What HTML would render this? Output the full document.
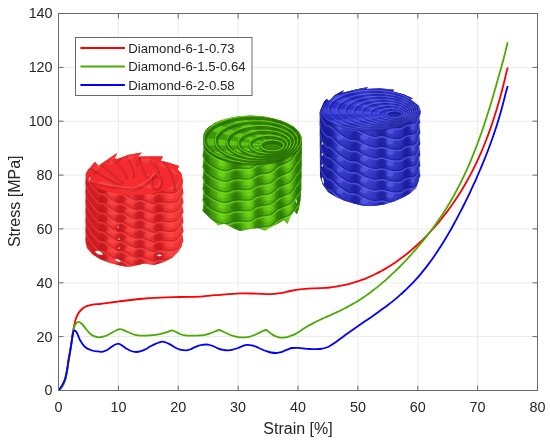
<!DOCTYPE html>
<html><head><meta charset="utf-8"><title>Stress-Strain</title>
<style>
html,body{margin:0;padding:0;background:#fff;}
svg{display:block;}
text{font-family:"Liberation Sans",Arial,Helvetica,sans-serif;fill:#262626;}
</style></head><body>
<svg width="550" height="443" viewBox="0 0 550 443">
<rect width="550" height="443" fill="#fff"/>
<g stroke="#ebebeb" stroke-width="1"><line x1="118.4" y1="13.5" x2="118.4" y2="390.5"/><line x1="178.2" y1="13.5" x2="178.2" y2="390.5"/><line x1="238.1" y1="13.5" x2="238.1" y2="390.5"/><line x1="298.0" y1="13.5" x2="298.0" y2="390.5"/><line x1="357.9" y1="13.5" x2="357.9" y2="390.5"/><line x1="417.8" y1="13.5" x2="417.8" y2="390.5"/><line x1="477.6" y1="13.5" x2="477.6" y2="390.5"/><line x1="58.5" y1="336.6" x2="537.5" y2="336.6"/><line x1="58.5" y1="282.8" x2="537.5" y2="282.8"/><line x1="58.5" y1="228.9" x2="537.5" y2="228.9"/><line x1="58.5" y1="175.1" x2="537.5" y2="175.1"/><line x1="58.5" y1="121.2" x2="537.5" y2="121.2"/><line x1="58.5" y1="67.4" x2="537.5" y2="67.4"/></g>
<clipPath id="cR"><path d="M85.6 178.0L85.8 174.0L88.0 170.0L95.0 162.0L98.5 166.0L102.0 163.5L117.0 153.0L114.5 158.5L118.0 159.0L128.0 155.0L142.0 152.4L137.5 156.8L146.0 156.6L163.0 156.6L160.5 160.8L168.0 162.4L179.0 166.0L177.5 169.6L181.0 173.0L183.0 180.0L182.4 186.0L183.6 193.5L182.3 195.5L183.6 203.0L182.3 205.0L183.6 212.6L182.3 214.6L183.6 222.2L182.3 224.2L183.6 231.8L182.3 233.8L183.4 241.4L182.3 243.0L182.0 246.0L178.0 252.0L172.0 258.0L164.0 262.0L154.0 265.0L144.0 263.6L138.0 265.0L128.0 267.0L120.0 265.6L110.0 263.0L100.0 259.0L92.0 254.0L87.0 248.0L85.6 242.0Z"/></clipPath>
<linearGradient id="gR" x1="0" x2="1" y1="0" y2="0"><stop offset="0" stop-color="#b8141c" stop-opacity="0.1"/><stop offset="0.15" stop-color="#b8141c" stop-opacity="0"/><stop offset="0.5" stop-color="#ff5d58" stop-opacity="0.05"/><stop offset="0.9" stop-color="#b8141c" stop-opacity="0"/><stop offset="1" stop-color="#ff5d58" stop-opacity="0.15"/></linearGradient>
<g clip-path="url(#cR)">
<rect x="83.6" y="146.4" width="100.8" height="149.2" fill="#f52a2e"/>
<linearGradient id="kR" gradientUnits="userSpaceOnUse" x1="85.6" x2="182.4" y1="0" y2="0"><stop offset="0.180" stop-color="#b8141c" stop-opacity="0.50"/><stop offset="0.273" stop-color="#ff5d58" stop-opacity="0.30"/><stop offset="0.366" stop-color="#b8141c" stop-opacity="0.50"/><stop offset="0.459" stop-color="#ff5d58" stop-opacity="0.30"/><stop offset="0.562" stop-color="#b8141c" stop-opacity="0.50"/><stop offset="0.655" stop-color="#ff5d58" stop-opacity="0.30"/><stop offset="0.753" stop-color="#b8141c" stop-opacity="0.50"/><stop offset="0.872" stop-color="#ff5d58" stop-opacity="0.30"/></linearGradient>
<rect x="85.6" y="146.4" width="96.8" height="149.2" fill="url(#kR)"/>
<path d="M85.6 121.2L85.7 122.7L86.0 124.1L86.5 125.7L87.2 127.4L88.2 129.1L89.3 131.0L90.6 132.9L92.1 135.0L93.8 137.1L95.6 139.2L97.6 141.2L99.8 142.9L102.1 142.5L104.5 143.9L107.1 145.8L109.8 148.0L112.6 150.2L115.5 152.2L118.4 153.2L121.5 152.6L124.6 154.1L127.7 156.0L130.8 157.9L134.0 159.3L137.2 159.9L140.3 158.7L143.4 159.8L146.5 161.1L149.6 162.4L152.5 163.2L155.4 163.5L158.2 161.5L160.9 161.6L163.5 161.9L165.9 162.2L168.2 162.4L170.4 162.4L172.4 162.3L174.2 161.9L175.9 161.3L177.4 160.5L178.7 158.9L179.8 157.0L180.8 155.4L181.5 154.1L182.0 152.9L182.3 151.6L182.4 150.3M85.6 130.8L85.7 132.3L86.0 133.7L86.5 135.3L87.2 137.0L88.2 138.7L89.3 140.6L90.6 142.5L92.1 144.6L93.8 146.7L95.6 148.8L97.6 150.8L99.8 152.5L102.1 152.1L104.5 153.5L107.1 155.4L109.8 157.6L112.6 159.8L115.5 161.8L118.4 162.8L121.5 162.2L124.6 163.7L127.7 165.6L130.8 167.5L134.0 168.9L137.2 169.5L140.3 168.3L143.4 169.4L146.5 170.7L149.6 172.0L152.5 172.8L155.4 173.1L158.2 171.1L160.9 171.2L163.5 171.5L165.9 171.8L168.2 172.0L170.4 172.0L172.4 171.9L174.2 171.5L175.9 170.9L177.4 170.1L178.7 168.5L179.8 166.6L180.8 165.0L181.5 163.7L182.0 162.5L182.3 161.2L182.4 159.9M85.6 140.4L85.7 141.9L86.0 143.3L86.5 144.9L87.2 146.6L88.2 148.3L89.3 150.2L90.6 152.1L92.1 154.2L93.8 156.3L95.6 158.4L97.6 160.4L99.8 162.1L102.1 161.7L104.5 163.1L107.1 165.0L109.8 167.2L112.6 169.4L115.5 171.4L118.4 172.4L121.5 171.8L124.6 173.3L127.7 175.2L130.8 177.1L134.0 178.5L137.2 179.1L140.3 177.9L143.4 179.0L146.5 180.3L149.6 181.6L152.5 182.4L155.4 182.7L158.2 180.7L160.9 180.8L163.5 181.1L165.9 181.4L168.2 181.6L170.4 181.6L172.4 181.5L174.2 181.1L175.9 180.5L177.4 179.7L178.7 178.1L179.8 176.2L180.8 174.6L181.5 173.3L182.0 172.1L182.3 170.8L182.4 169.5M85.6 150.0L85.7 151.5L86.0 152.9L86.5 154.5L87.2 156.2L88.2 157.9L89.3 159.8L90.6 161.7L92.1 163.8L93.8 165.9L95.6 168.0L97.6 170.0L99.8 171.7L102.1 171.3L104.5 172.7L107.1 174.6L109.8 176.8L112.6 179.0L115.5 181.0L118.4 182.0L121.5 181.4L124.6 182.9L127.7 184.8L130.8 186.7L134.0 188.1L137.2 188.7L140.3 187.5L143.4 188.6L146.5 189.9L149.6 191.2L152.5 192.0L155.4 192.3L158.2 190.3L160.9 190.4L163.5 190.7L165.9 191.0L168.2 191.2L170.4 191.2L172.4 191.1L174.2 190.7L175.9 190.1L177.4 189.3L178.7 187.7L179.8 185.8L180.8 184.2L181.5 182.9L182.0 181.7L182.3 180.4L182.4 179.1M85.6 159.6L85.7 161.0L86.0 162.5L86.5 164.1L87.2 165.8L88.2 167.5L89.3 169.3L90.6 171.3L92.1 173.4L93.8 175.5L95.6 177.6L97.6 179.5L99.8 181.2L102.1 180.9L104.5 182.2L107.1 184.2L109.8 186.4L112.6 188.6L115.5 190.5L118.4 191.5L121.5 190.9L124.6 192.5L127.7 194.4L130.8 196.2L134.0 197.7L137.2 198.2L140.3 197.1L143.4 198.1L146.5 199.4L149.6 200.7L152.5 201.6L155.4 201.8L158.2 199.8L160.9 200.0L163.5 200.2L165.9 200.5L168.2 200.7L170.4 200.8L172.4 200.7L174.2 200.3L175.9 199.7L177.4 198.9L178.7 197.3L179.8 195.4L180.8 193.8L181.5 192.5L182.0 191.3L182.3 190.0L182.4 188.7M85.6 169.2L85.7 170.6L86.0 172.1L86.5 173.7L87.2 175.3L88.2 177.1L89.3 178.9L90.6 180.9L92.1 182.9L93.8 185.0L95.6 187.1L97.6 189.1L99.8 190.8L102.1 190.5L104.5 191.8L107.1 193.8L109.8 195.9L112.6 198.1L115.5 200.1L118.4 201.1L121.5 200.5L124.6 202.0L127.7 203.9L130.8 205.8L134.0 207.3L137.2 207.8L140.3 206.7L143.4 207.7L146.5 209.0L149.6 210.3L152.5 211.2L155.4 211.4L158.2 209.4L160.9 209.5L163.5 209.8L165.9 210.1L168.2 210.3L170.4 210.4L172.4 210.2L174.2 209.9L175.9 209.3L177.4 208.5L178.7 206.9L179.8 205.0L180.8 203.4L181.5 202.1L182.0 200.9L182.3 199.6L182.4 198.3M85.6 178.8L85.7 180.2L86.0 181.7L86.5 183.3L87.2 184.9L88.2 186.7L89.3 188.5L90.6 190.5L92.1 192.5L93.8 194.6L95.6 196.7L97.6 198.7L99.8 200.4L102.1 200.0L104.5 201.4L107.1 203.3L109.8 205.5L112.6 207.7L115.5 209.6L118.4 210.6L121.5 210.0L124.6 211.6L127.7 213.5L130.8 215.3L134.0 216.8L137.2 217.3L140.3 216.2L143.4 217.3L146.5 218.6L149.6 219.8L152.5 220.7L155.4 220.9L158.2 219.0L160.9 219.1L163.5 219.4L165.9 219.7L168.2 219.9L170.4 219.9L172.4 219.8L174.2 219.4L175.9 218.9L177.4 218.0L178.7 216.4L179.8 214.6L180.8 213.0L181.5 211.7L182.0 210.5L182.3 209.2L182.4 207.9M85.6 188.4L85.7 189.8L86.0 191.3L86.5 192.9L87.2 194.5L88.2 196.2L89.3 198.1L90.6 200.0L92.1 202.1L93.8 204.2L95.6 206.3L97.6 208.3L99.8 209.9L102.1 209.6L104.5 210.9L107.1 212.9L109.8 215.1L112.6 217.3L115.5 219.2L118.4 220.2L121.5 219.6L124.6 221.2L127.7 223.0L130.8 224.9L134.0 226.4L137.2 226.9L140.3 225.8L143.4 226.8L146.5 228.1L149.6 229.4L152.5 230.3L155.4 230.5L158.2 228.5L160.9 228.7L163.5 228.9L165.9 229.2L168.2 229.4L170.4 229.5L172.4 229.4L174.2 229.0L175.9 228.5L177.4 227.6L178.7 226.0L179.8 224.2L180.8 222.6L181.5 221.3L182.0 220.1L182.3 218.8L182.4 217.5M85.6 198.0L85.7 199.4L86.0 200.9L86.5 202.5L87.2 204.1L88.2 205.8L89.3 207.7L90.6 209.6L92.1 211.7L93.8 213.8L95.6 215.9L97.6 217.8L99.8 219.5L102.1 219.2L104.5 220.5L107.1 222.4L109.8 224.6L112.6 226.8L115.5 228.8L118.4 229.8L121.5 229.1L124.6 230.7L127.7 232.6L130.8 234.5L134.0 235.9L137.2 236.5L140.3 235.3L143.4 236.4L146.5 237.7L149.6 238.9L152.5 239.8L155.4 240.1L158.2 238.1L160.9 238.2L163.5 238.5L165.9 238.8L168.2 239.0L170.4 239.1L172.4 239.0L174.2 238.6L175.9 238.0L177.4 237.2L178.7 235.6L179.8 233.8L180.8 232.2L181.5 230.9L182.0 229.7L182.3 228.4L182.4 227.1M85.6 207.6L85.7 209.0L86.0 210.5L86.5 212.1L87.2 213.7L88.2 215.4L89.3 217.3L90.6 219.2L92.1 221.2L93.8 223.3L95.6 225.4L97.6 227.4L99.8 229.1L102.1 228.7L104.5 230.1L107.1 232.0L109.8 234.2L112.6 236.4L115.5 238.3L118.4 239.3L121.5 238.7L124.6 240.3L127.7 242.2L130.8 244.0L134.0 245.5L137.2 246.0L140.3 244.9L143.4 245.9L146.5 247.2L149.6 248.5L152.5 249.4L155.4 249.6L158.2 247.7L160.9 247.8L163.5 248.1L165.9 248.4L168.2 248.6L170.4 248.7L172.4 248.5L174.2 248.2L175.9 247.6L177.4 246.8L178.7 245.2L179.8 243.3L180.8 241.8L181.5 240.5L182.0 239.3L182.3 238.0L182.4 236.7M85.6 217.2L85.7 218.6L86.0 220.1L86.5 221.7L87.2 223.3L88.2 225.0L89.3 226.8L90.6 228.8L92.1 230.8L93.8 232.9L95.6 235.0L97.6 237.0L99.8 238.7L102.1 238.3L104.5 239.6L107.1 241.6L109.8 243.8L112.6 245.9L115.5 247.9L118.4 248.9L121.5 248.3L124.6 249.8L127.7 251.7L130.8 253.6L134.0 255.0L137.2 255.6L140.3 254.5L143.4 255.5L146.5 256.8L149.6 258.1L152.5 259.0L155.4 259.2L158.2 257.2L160.9 257.4L163.5 257.6L165.9 257.9L168.2 258.2L170.4 258.2L172.4 258.1L174.2 257.8L175.9 257.2L177.4 256.4L178.7 254.8L179.8 252.9L180.8 251.3L181.5 250.1L182.0 248.9L182.3 247.6L182.4 246.3M85.6 226.8L85.7 228.2L86.0 229.7L86.5 231.3L87.2 232.9L88.2 234.6L89.3 236.4L90.6 238.4L92.1 240.4L93.8 242.5L95.6 244.6L97.6 246.6L99.8 248.3L102.1 247.9L104.5 249.2L107.1 251.2L109.8 253.4L112.6 255.5L115.5 257.5L118.4 258.5L121.5 257.9L124.6 259.4L127.7 261.3L130.8 263.2L134.0 264.6L137.2 265.2L140.3 264.1L143.4 265.1L146.5 266.4L149.6 267.7L152.5 268.6L155.4 268.8L158.2 266.8L160.9 267.0L163.5 267.2L165.9 267.5L168.2 267.8L170.4 267.8L172.4 267.7L174.2 267.4L175.9 266.8L177.4 266.0L178.7 264.4L179.8 262.5L180.8 260.9L181.5 259.7L182.0 258.5L182.3 257.2L182.4 255.9M85.6 236.4L85.7 237.8L86.0 239.3L86.5 240.9L87.2 242.5L88.2 244.2L89.3 246.0L90.6 248.0L92.1 250.0L93.8 252.1L95.6 254.2L97.6 256.2L99.8 257.9L102.1 257.5L104.5 258.8L107.1 260.8L109.8 263.0L112.6 265.1L115.5 267.1L118.4 268.1L121.5 267.5L124.6 269.0L127.7 270.9L130.8 272.8L134.0 274.2L137.2 274.8L140.3 273.7L143.4 274.7L146.5 276.0L149.6 277.3L152.5 278.2L155.4 278.4L158.2 276.4L160.9 276.6L163.5 276.8L165.9 277.1L168.2 277.4L170.4 277.4L172.4 277.3L174.2 277.0L175.9 276.4L177.4 275.6L178.7 274.0L179.8 272.1L180.8 270.5L181.5 269.3L182.0 268.1L182.3 266.8L182.4 265.5M85.6 246.0L85.7 247.4L86.0 248.9L86.5 250.5L87.2 252.1L88.2 253.8L89.3 255.6L90.6 257.6L92.1 259.6L93.8 261.7L95.6 263.8L97.6 265.8L99.8 267.5L102.1 267.1L104.5 268.4L107.1 270.4L109.8 272.6L112.6 274.7L115.5 276.7L118.4 277.7L121.5 277.1L124.6 278.6L127.7 280.5L130.8 282.4L134.0 283.8L137.2 284.4L140.3 283.3L143.4 284.3L146.5 285.6L149.6 286.9L152.5 287.8L155.4 288.0L158.2 286.0L160.9 286.2L163.5 286.4L165.9 286.7L168.2 287.0L170.4 287.0L172.4 286.9L174.2 286.6L175.9 286.0L177.4 285.2L178.7 283.6L179.8 281.7L180.8 280.1L181.5 278.9L182.0 277.7L182.3 276.4L182.4 275.1" fill="none" stroke="#b8141c" stroke-width="3.5" stroke-opacity="0.12"/>
<path d="M85.6 123.0L85.7 124.5L86.0 126.0L86.5 127.5L87.2 129.2L88.2 130.9L89.3 132.8L90.6 134.7L92.1 136.8L93.8 138.9L95.6 141.0L97.6 143.0L99.8 144.7L102.1 144.4L104.5 145.7L107.1 147.7L109.8 149.8L112.6 152.0L115.5 154.0L118.4 155.0L121.5 154.4L124.6 156.0L127.7 157.8L130.8 159.7L134.0 161.2L137.2 161.7L140.3 160.6L143.4 161.6L146.5 162.9L149.6 164.2L152.5 165.1L155.4 165.3L158.2 163.3L160.9 163.4L163.5 163.7L165.9 164.0L168.2 164.2L170.4 164.2L172.4 164.1L174.2 163.7L175.9 163.2L177.4 162.3L178.7 160.7L179.8 158.9L180.8 157.2L181.5 156.0L182.0 154.7L182.3 153.4L182.4 152.1M85.6 132.6L85.7 134.1L86.0 135.6L86.5 137.1L87.2 138.8L88.2 140.5L89.3 142.4L90.6 144.3L92.1 146.4L93.8 148.5L95.6 150.6L97.6 152.6L99.8 154.3L102.1 154.0L104.5 155.3L107.1 157.3L109.8 159.4L112.6 161.6L115.5 163.6L118.4 164.6L121.5 164.0L124.6 165.6L127.7 167.4L130.8 169.3L134.0 170.8L137.2 171.3L140.3 170.2L143.4 171.2L146.5 172.5L149.6 173.8L152.5 174.7L155.4 174.9L158.2 172.9L160.9 173.0L163.5 173.3L165.9 173.6L168.2 173.8L170.4 173.8L172.4 173.7L174.2 173.3L175.9 172.8L177.4 171.9L178.7 170.3L179.8 168.5L180.8 166.8L181.5 165.6L182.0 164.3L182.3 163.0L182.4 161.7M85.6 142.2L85.7 143.7L86.0 145.2L86.5 146.7L87.2 148.4L88.2 150.1L89.3 152.0L90.6 153.9L92.1 156.0L93.8 158.1L95.6 160.2L97.6 162.2L99.8 163.9L102.1 163.6L104.5 164.9L107.1 166.9L109.8 169.0L112.6 171.2L115.5 173.2L118.4 174.2L121.5 173.6L124.6 175.2L127.7 177.0L130.8 178.9L134.0 180.4L137.2 180.9L140.3 179.8L143.4 180.8L146.5 182.1L149.6 183.4L152.5 184.3L155.4 184.5L158.2 182.5L160.9 182.6L163.5 182.9L165.9 183.2L168.2 183.4L170.4 183.4L172.4 183.3L174.2 182.9L175.9 182.4L177.4 181.5L178.7 179.9L179.8 178.1L180.8 176.4L181.5 175.2L182.0 173.9L182.3 172.6L182.4 171.3M85.6 151.8L85.7 153.3L86.0 154.8L86.5 156.3L87.2 158.0L88.2 159.7L89.3 161.6L90.6 163.5L92.1 165.6L93.8 167.7L95.6 169.8L97.6 171.8L99.8 173.5L102.1 173.2L104.5 174.5L107.1 176.5L109.8 178.6L112.6 180.8L115.5 182.8L118.4 183.8L121.5 183.2L124.6 184.8L127.7 186.6L130.8 188.5L134.0 190.0L137.2 190.5L140.3 189.4L143.4 190.4L146.5 191.7L149.6 193.0L152.5 193.9L155.4 194.1L158.2 192.1L160.9 192.2L163.5 192.5L165.9 192.8L168.2 193.0L170.4 193.0L172.4 192.9L174.2 192.5L175.9 192.0L177.4 191.1L178.7 189.5L179.8 187.7L180.8 186.0L181.5 184.8L182.0 183.5L182.3 182.2L182.4 180.9M85.6 161.4L85.7 162.9L86.0 164.4L86.5 165.9L87.2 167.6L88.2 169.3L89.3 171.2L90.6 173.1L92.1 175.2L93.8 177.3L95.6 179.4L97.6 181.4L99.8 183.1L102.1 182.7L104.5 184.0L107.1 186.0L109.8 188.2L112.6 190.4L115.5 192.3L118.4 193.4L121.5 192.7L124.6 194.3L127.7 196.2L130.8 198.1L134.0 199.5L137.2 200.0L140.3 198.9L143.4 200.0L146.5 201.3L149.6 202.5L152.5 203.4L155.4 203.6L158.2 201.7L160.9 201.8L163.5 202.1L165.9 202.4L168.2 202.6L170.4 202.6L172.4 202.5L174.2 202.1L175.9 201.5L177.4 200.7L178.7 199.1L179.8 197.2L180.8 195.6L181.5 194.3L182.0 193.1L182.3 191.8L182.4 190.5M85.6 171.0L85.7 172.5L86.0 174.0L86.5 175.5L87.2 177.2L88.2 178.9L89.3 180.7L90.6 182.7L92.1 184.8L93.8 186.9L95.6 189.0L97.6 190.9L99.8 192.6L102.1 192.3L104.5 193.6L107.1 195.6L109.8 197.8L112.6 200.0L115.5 201.9L118.4 202.9L121.5 202.3L124.6 203.9L127.7 205.8L130.8 207.6L134.0 209.1L137.2 209.6L140.3 208.5L143.4 209.5L146.5 210.8L149.6 212.1L152.5 213.0L155.4 213.2L158.2 211.2L160.9 211.4L163.5 211.6L165.9 211.9L168.2 212.1L170.4 212.2L172.4 212.1L174.2 211.7L175.9 211.1L177.4 210.3L178.7 208.7L179.8 206.8L180.8 205.2L181.5 203.9L182.0 202.7L182.3 201.4L182.4 200.1M85.6 180.6L85.7 182.1L86.0 183.6L86.5 185.1L87.2 186.8L88.2 188.5L89.3 190.3L90.6 192.3L92.1 194.3L93.8 196.4L95.6 198.5L97.6 200.5L99.8 202.2L102.1 201.9L104.5 203.2L107.1 205.1L109.8 207.3L112.6 209.5L115.5 211.5L118.4 212.5L121.5 211.9L124.6 213.4L127.7 215.3L130.8 217.2L134.0 218.6L137.2 219.2L140.3 218.0L143.4 219.1L146.5 220.4L149.6 221.7L152.5 222.6L155.4 222.8L158.2 220.8L160.9 220.9L163.5 221.2L165.9 221.5L168.2 221.7L170.4 221.8L172.4 221.6L174.2 221.3L175.9 220.7L177.4 219.9L178.7 218.3L179.8 216.4L180.8 214.8L181.5 213.5L182.0 212.3L182.3 211.0L182.4 209.7M85.6 190.2L85.7 191.7L86.0 193.1L86.5 194.7L87.2 196.3L88.2 198.1L89.3 199.9L90.6 201.9L92.1 203.9L93.8 206.0L95.6 208.1L97.6 210.1L99.8 211.8L102.1 211.4L104.5 212.7L107.1 214.7L109.8 216.9L112.6 219.1L115.5 221.0L118.4 222.0L121.5 221.4L124.6 223.0L127.7 224.9L130.8 226.7L134.0 228.2L137.2 228.7L140.3 227.6L143.4 228.6L146.5 229.9L149.6 231.2L152.5 232.1L155.4 232.3L158.2 230.4L160.9 230.5L163.5 230.8L165.9 231.1L168.2 231.3L170.4 231.3L172.4 231.2L174.2 230.8L175.9 230.3L177.4 229.5L178.7 227.8L179.8 226.0L180.8 224.4L181.5 223.1L182.0 221.9L182.3 220.6L182.4 219.3M85.6 199.8L85.7 201.3L86.0 202.7L86.5 204.3L87.2 205.9L88.2 207.7L89.3 209.5L90.6 211.4L92.1 213.5L93.8 215.6L95.6 217.7L97.6 219.7L99.8 221.3L102.1 221.0L104.5 222.3L107.1 224.3L109.8 226.5L112.6 228.6L115.5 230.6L118.4 231.6L121.5 231.0L124.6 232.5L127.7 234.4L130.8 236.3L134.0 237.8L137.2 238.3L140.3 237.2L143.4 238.2L146.5 239.5L149.6 240.8L152.5 241.7L155.4 241.9L158.2 239.9L160.9 240.1L163.5 240.3L165.9 240.6L168.2 240.8L170.4 240.9L172.4 240.8L174.2 240.4L175.9 239.9L177.4 239.0L178.7 237.4L179.8 235.6L180.8 234.0L181.5 232.7L182.0 231.5L182.3 230.2L182.4 228.9M85.6 209.4L85.7 210.9L86.0 212.3L86.5 213.9L87.2 215.5L88.2 217.2L89.3 219.1L90.6 221.0L92.1 223.1L93.8 225.2L95.6 227.3L97.6 229.2L99.8 230.9L102.1 230.6L104.5 231.9L107.1 233.8L109.8 236.0L112.6 238.2L115.5 240.1L118.4 241.2L121.5 240.5L124.6 242.1L127.7 244.0L130.8 245.8L134.0 247.3L137.2 247.8L140.3 246.7L143.4 247.8L146.5 249.1L149.6 250.3L152.5 251.2L155.4 251.5L158.2 249.5L160.9 249.6L163.5 249.9L165.9 250.2L168.2 250.4L170.4 250.5L172.4 250.3L174.2 250.0L175.9 249.4L177.4 248.6L178.7 247.0L179.8 245.2L180.8 243.6L181.5 242.3L182.0 241.1L182.3 239.8L182.4 238.5M85.6 219.0L85.7 220.5L86.0 221.9L86.5 223.5L87.2 225.1L88.2 226.8L89.3 228.7L90.6 230.6L92.1 232.7L93.8 234.7L95.6 236.8L97.6 238.8L99.8 240.5L102.1 240.1L104.5 241.4L107.1 243.4L109.8 245.6L112.6 247.8L115.5 249.7L118.4 250.7L121.5 250.1L124.6 251.7L127.7 253.5L130.8 255.4L134.0 256.9L137.2 257.4L140.3 256.3L143.4 257.3L146.5 258.6L149.6 259.9L152.5 260.8L155.4 261.0L158.2 259.0L160.9 259.2L163.5 259.5L165.9 259.8L168.2 260.0L170.4 260.1L172.4 259.9L174.2 259.6L175.9 259.0L177.4 258.2L178.7 256.6L179.8 254.8L180.8 253.2L181.5 251.9L182.0 250.7L182.3 249.4L182.4 248.1M85.6 228.6L85.7 230.1L86.0 231.5L86.5 233.1L87.2 234.7L88.2 236.4L89.3 238.3L90.6 240.2L92.1 242.3L93.8 244.3L95.6 246.4L97.6 248.4L99.8 250.1L102.1 249.7L104.5 251.0L107.1 253.0L109.8 255.2L112.6 257.4L115.5 259.3L118.4 260.3L121.5 259.7L124.6 261.3L127.7 263.1L130.8 265.0L134.0 266.5L137.2 267.0L140.3 265.9L143.4 266.9L146.5 268.2L149.6 269.5L152.5 270.4L155.4 270.6L158.2 268.6L160.9 268.8L163.5 269.1L165.9 269.4L168.2 269.6L170.4 269.7L172.4 269.5L174.2 269.2L175.9 268.6L177.4 267.8L178.7 266.2L179.8 264.4L180.8 262.8L181.5 261.5L182.0 260.3L182.3 259.0L182.4 257.7M85.6 238.2L85.7 239.7L86.0 241.1L86.5 242.7L87.2 244.3L88.2 246.0L89.3 247.9L90.6 249.8L92.1 251.9L93.8 253.9L95.6 256.0L97.6 258.0L99.8 259.7L102.1 259.3L104.5 260.6L107.1 262.6L109.8 264.8L112.6 267.0L115.5 268.9L118.4 269.9L121.5 269.3L124.6 270.9L127.7 272.7L130.8 274.6L134.0 276.1L137.2 276.6L140.3 275.5L143.4 276.5L146.5 277.8L149.6 279.1L152.5 280.0L155.4 280.2L158.2 278.2L160.9 278.4L163.5 278.7L165.9 279.0L168.2 279.2L170.4 279.3L172.4 279.1L174.2 278.8L175.9 278.2L177.4 277.4L178.7 275.8L179.8 274.0L180.8 272.4L181.5 271.1L182.0 269.9L182.3 268.6L182.4 267.3M85.6 247.8L85.7 249.3L86.0 250.7L86.5 252.3L87.2 253.9L88.2 255.6L89.3 257.5L90.6 259.4L92.1 261.5L93.8 263.5L95.6 265.6L97.6 267.6L99.8 269.3L102.1 268.9L104.5 270.2L107.1 272.2L109.8 274.4L112.6 276.6L115.5 278.5L118.4 279.5L121.5 278.9L124.6 280.5L127.7 282.3L130.8 284.2L134.0 285.7L137.2 286.2L140.3 285.1L143.4 286.1L146.5 287.4L149.6 288.7L152.5 289.6L155.4 289.8L158.2 287.8L160.9 288.0L163.5 288.3L165.9 288.6L168.2 288.8L170.4 288.9L172.4 288.7L174.2 288.4L175.9 287.8L177.4 287.0L178.7 285.4L179.8 283.6L180.8 282.0L181.5 280.7L182.0 279.5L182.3 278.2L182.4 276.9" fill="none" stroke="#b8141c" stroke-width="1.5" stroke-opacity="0.50"/>
<path d="M85.6 124.4L85.7 125.8L86.0 127.3L86.5 128.9L87.2 130.5L88.2 132.3L89.3 134.1L90.6 136.1L92.1 138.1L93.8 140.3L95.6 142.4L97.6 144.3L99.8 146.0L102.1 145.7L104.5 147.0L107.1 149.0L109.8 151.2L112.6 153.4L115.5 155.3L118.4 156.3L121.5 155.7L124.6 157.3L127.7 159.2L130.8 161.0L134.0 162.5L137.2 163.0L140.3 161.9L143.4 162.9L146.5 164.3L149.6 165.5L152.5 166.4L155.4 166.6L158.2 164.6L160.9 164.8L163.5 165.0L165.9 165.3L168.2 165.5L170.4 165.6L172.4 165.4L174.2 165.1L175.9 164.5L177.4 163.7L178.7 162.1L179.8 160.2L180.8 158.6L181.5 157.3L182.0 156.1L182.3 154.8L182.4 153.4M85.6 134.0L85.7 135.4L86.0 136.9L86.5 138.5L87.2 140.1L88.2 141.9L89.3 143.7L90.6 145.7L92.1 147.7L93.8 149.9L95.6 152.0L97.6 153.9L99.8 155.6L102.1 155.3L104.5 156.6L107.1 158.6L109.8 160.8L112.6 163.0L115.5 164.9L118.4 165.9L121.5 165.3L124.6 166.9L127.7 168.8L130.8 170.6L134.0 172.1L137.2 172.6L140.3 171.5L143.4 172.5L146.5 173.9L149.6 175.1L152.5 176.0L155.4 176.2L158.2 174.2L160.9 174.4L163.5 174.6L165.9 174.9L168.2 175.1L170.4 175.2L172.4 175.0L174.2 174.7L175.9 174.1L177.4 173.3L178.7 171.7L179.8 169.8L180.8 168.2L181.5 166.9L182.0 165.7L182.3 164.4L182.4 163.0M85.6 143.6L85.7 145.0L86.0 146.5L86.5 148.1L87.2 149.7L88.2 151.5L89.3 153.3L90.6 155.3L92.1 157.3L93.8 159.5L95.6 161.6L97.6 163.5L99.8 165.2L102.1 164.9L104.5 166.2L107.1 168.2L109.8 170.4L112.6 172.6L115.5 174.5L118.4 175.5L121.5 174.9L124.6 176.5L127.7 178.4L130.8 180.2L134.0 181.7L137.2 182.2L140.3 181.1L143.4 182.1L146.5 183.5L149.6 184.7L152.5 185.6L155.4 185.8L158.2 183.8L160.9 184.0L163.5 184.2L165.9 184.5L168.2 184.7L170.4 184.8L172.4 184.6L174.2 184.3L175.9 183.7L177.4 182.9L178.7 181.3L179.8 179.4L180.8 177.8L181.5 176.5L182.0 175.3L182.3 174.0L182.4 172.6M85.6 153.2L85.7 154.6L86.0 156.1L86.5 157.7L87.2 159.3L88.2 161.1L89.3 162.9L90.6 164.9L92.1 166.9L93.8 169.1L95.6 171.2L97.6 173.1L99.8 174.8L102.1 174.5L104.5 175.8L107.1 177.8L109.8 180.0L112.6 182.2L115.5 184.1L118.4 185.1L121.5 184.5L124.6 186.1L127.7 188.0L130.8 189.8L134.0 191.3L137.2 191.8L140.3 190.7L143.4 191.7L146.5 193.1L149.6 194.3L152.5 195.2L155.4 195.4L158.2 193.4L160.9 193.6L163.5 193.8L165.9 194.1L168.2 194.3L170.4 194.4L172.4 194.2L174.2 193.9L175.9 193.3L177.4 192.5L178.7 190.9L179.8 189.0L180.8 187.4L181.5 186.1L182.0 184.9L182.3 183.6L182.4 182.2M85.6 162.8L85.7 164.2L86.0 165.7L86.5 167.3L87.2 168.9L88.2 170.7L89.3 172.5L90.6 174.5L92.1 176.5L93.8 178.6L95.6 180.7L97.6 182.7L99.8 184.4L102.1 184.1L104.5 185.4L107.1 187.4L109.8 189.5L112.6 191.7L115.5 193.7L118.4 194.7L121.5 194.1L124.6 195.7L127.7 197.5L130.8 199.4L134.0 200.9L137.2 201.4L140.3 200.3L143.4 201.3L146.5 202.6L149.6 203.9L152.5 204.8L155.4 205.0L158.2 203.0L160.9 203.1L163.5 203.4L165.9 203.7L168.2 203.9L170.4 204.0L172.4 203.8L174.2 203.5L175.9 202.9L177.4 202.1L178.7 200.4L179.8 198.6L180.8 197.0L181.5 195.7L182.0 194.5L182.3 193.2L182.4 191.8M85.6 172.4L85.7 173.8L86.0 175.3L86.5 176.9L87.2 178.5L88.2 180.2L89.3 182.1L90.6 184.0L92.1 186.1L93.8 188.2L95.6 190.3L97.6 192.3L99.8 194.0L102.1 193.6L104.5 195.0L107.1 196.9L109.8 199.1L112.6 201.3L115.5 203.2L118.4 204.3L121.5 203.6L124.6 205.2L127.7 207.1L130.8 209.0L134.0 210.4L137.2 210.9L140.3 209.8L143.4 210.9L146.5 212.2L149.6 213.4L152.5 214.3L155.4 214.5L158.2 212.6L160.9 212.7L163.5 213.0L165.9 213.3L168.2 213.5L170.4 213.5L172.4 213.4L174.2 213.0L175.9 212.5L177.4 211.6L178.7 210.0L179.8 208.2L180.8 206.6L181.5 205.3L182.0 204.1L182.3 202.8L182.4 201.4M85.6 182.0L85.7 183.4L86.0 184.9L86.5 186.5L87.2 188.1L88.2 189.8L89.3 191.7L90.6 193.6L92.1 195.7L93.8 197.8L95.6 199.9L97.6 201.9L99.8 203.5L102.1 203.2L104.5 204.5L107.1 206.5L109.8 208.7L112.6 210.9L115.5 212.8L118.4 213.8L121.5 213.2L124.6 214.8L127.7 216.7L130.8 218.5L134.0 220.0L137.2 220.5L140.3 219.4L143.4 220.4L146.5 221.7L149.6 223.0L152.5 223.9L155.4 224.1L158.2 222.1L160.9 222.3L163.5 222.5L165.9 222.8L168.2 223.0L170.4 223.1L172.4 223.0L174.2 222.6L175.9 222.0L177.4 221.2L178.7 219.6L179.8 217.8L180.8 216.2L181.5 214.9L182.0 213.7L182.3 212.4L182.4 211.0M85.6 191.6L85.7 193.0L86.0 194.5L86.5 196.0L87.2 197.7L88.2 199.4L89.3 201.3L90.6 203.2L92.1 205.3L93.8 207.4L95.6 209.5L97.6 211.4L99.8 213.1L102.1 212.8L104.5 214.1L107.1 216.1L109.8 218.2L112.6 220.4L115.5 222.4L118.4 223.4L121.5 222.8L124.6 224.3L127.7 226.2L130.8 228.1L134.0 229.5L137.2 230.1L140.3 228.9L143.4 230.0L146.5 231.3L149.6 232.6L152.5 233.5L155.4 233.7L158.2 231.7L160.9 231.8L163.5 232.1L165.9 232.4L168.2 232.6L170.4 232.7L172.4 232.5L174.2 232.2L175.9 231.6L177.4 230.8L178.7 229.2L179.8 227.3L180.8 225.7L181.5 224.5L182.0 223.3L182.3 222.0L182.4 220.6M85.6 201.2L85.7 202.6L86.0 204.1L86.5 205.6L87.2 207.3L88.2 209.0L89.3 210.8L90.6 212.8L92.1 214.8L93.8 216.9L95.6 219.0L97.6 221.0L99.8 222.7L102.1 222.3L104.5 223.7L107.1 225.6L109.8 227.8L112.6 230.0L115.5 231.9L118.4 232.9L121.5 232.3L124.6 233.9L127.7 235.8L130.8 237.6L134.0 239.1L137.2 239.6L140.3 238.5L143.4 239.5L146.5 240.8L149.6 242.1L152.5 243.0L155.4 243.2L158.2 241.3L160.9 241.4L163.5 241.7L165.9 242.0L168.2 242.2L170.4 242.3L172.4 242.1L174.2 241.8L175.9 241.2L177.4 240.4L178.7 238.8L179.8 236.9L180.8 235.3L181.5 234.1L182.0 232.9L182.3 231.6L182.4 230.2M85.6 210.8L85.7 212.2L86.0 213.7L86.5 215.2L87.2 216.9L88.2 218.6L89.3 220.4L90.6 222.4L92.1 224.4L93.8 226.5L95.6 228.6L97.6 230.6L99.8 232.2L102.1 231.9L104.5 233.2L107.1 235.2L109.8 237.4L112.6 239.5L115.5 241.5L118.4 242.5L121.5 241.9L124.6 243.4L127.7 245.3L130.8 247.2L134.0 248.7L137.2 249.2L140.3 248.1L143.4 249.1L146.5 250.4L149.6 251.7L152.5 252.6L155.4 252.8L158.2 250.8L160.9 251.0L163.5 251.2L165.9 251.5L168.2 251.8L170.4 251.8L172.4 251.7L174.2 251.3L175.9 250.8L177.4 250.0L178.7 248.4L179.8 246.5L180.8 244.9L181.5 243.6L182.0 242.4L182.3 241.2L182.4 239.8M85.6 220.4L85.7 221.8L86.0 223.3L86.5 224.8L87.2 226.5L88.2 228.2L89.3 230.0L90.6 232.0L92.1 234.0L93.8 236.1L95.6 238.2L97.6 240.1L99.8 241.8L102.1 241.5L104.5 242.8L107.1 244.7L109.8 246.9L112.6 249.1L115.5 251.0L118.4 252.1L121.5 251.4L124.6 253.0L127.7 254.9L130.8 256.7L134.0 258.2L137.2 258.7L140.3 257.6L143.4 258.7L146.5 260.0L149.6 261.2L152.5 262.1L155.4 262.4L158.2 260.4L160.9 260.5L163.5 260.8L165.9 261.1L168.2 261.3L170.4 261.4L172.4 261.3L174.2 260.9L175.9 260.4L177.4 259.5L178.7 257.9L179.8 256.1L180.8 254.5L181.5 253.2L182.0 252.0L182.3 250.8L182.4 249.4M85.6 230.0L85.7 231.4L86.0 232.9L86.5 234.4L87.2 236.1L88.2 237.8L89.3 239.6L90.6 241.6L92.1 243.6L93.8 245.7L95.6 247.8L97.6 249.7L99.8 251.4L102.1 251.1L104.5 252.4L107.1 254.3L109.8 256.5L112.6 258.7L115.5 260.6L118.4 261.7L121.5 261.0L124.6 262.6L127.7 264.5L130.8 266.3L134.0 267.8L137.2 268.3L140.3 267.2L143.4 268.3L146.5 269.6L149.6 270.8L152.5 271.7L155.4 272.0L158.2 270.0L160.9 270.1L163.5 270.4L165.9 270.7L168.2 270.9L170.4 271.0L172.4 270.9L174.2 270.5L175.9 270.0L177.4 269.1L178.7 267.5L179.8 265.7L180.8 264.1L181.5 262.8L182.0 261.6L182.3 260.4L182.4 259.0M85.6 239.6L85.7 241.0L86.0 242.5L86.5 244.0L87.2 245.7L88.2 247.4L89.3 249.2L90.6 251.2L92.1 253.2L93.8 255.3L95.6 257.4L97.6 259.3L99.8 261.0L102.1 260.7L104.5 262.0L107.1 263.9L109.8 266.1L112.6 268.3L115.5 270.2L118.4 271.3L121.5 270.6L124.6 272.2L127.7 274.1L130.8 275.9L134.0 277.4L137.2 277.9L140.3 276.8L143.4 277.9L146.5 279.2L149.6 280.4L152.5 281.3L155.4 281.6L158.2 279.6L160.9 279.7L163.5 280.0L165.9 280.3L168.2 280.5L170.4 280.6L172.4 280.5L174.2 280.1L175.9 279.6L177.4 278.7L178.7 277.1L179.8 275.3L180.8 273.7L181.5 272.4L182.0 271.2L182.3 270.0L182.4 268.6M85.6 249.2L85.7 250.6L86.0 252.1L86.5 253.6L87.2 255.3L88.2 257.0L89.3 258.8L90.6 260.8L92.1 262.8L93.8 264.9L95.6 267.0L97.6 268.9L99.8 270.6L102.1 270.3L104.5 271.6L107.1 273.5L109.8 275.7L112.6 277.9L115.5 279.8L118.4 280.9L121.5 280.2L124.6 281.8L127.7 283.7L130.8 285.5L134.0 287.0L137.2 287.5L140.3 286.4L143.4 287.5L146.5 288.8L149.6 290.0L152.5 290.9L155.4 291.2L158.2 289.2L160.9 289.3L163.5 289.6L165.9 289.9L168.2 290.1L170.4 290.2L172.4 290.1L174.2 289.7L175.9 289.2L177.4 288.3L178.7 286.7L179.8 284.9L180.8 283.3L181.5 282.0L182.0 280.8L182.3 279.6L182.4 278.2" fill="none" stroke="#ff5d58" stroke-width="1.5" stroke-opacity="0.40"/>
<g fill="#b8141c" fill-opacity="0.50"><ellipse cx="103.0" cy="151.5" rx="4.6" ry="3.5"/><ellipse cx="121.0" cy="161.0" rx="5.6" ry="3.5"/><ellipse cx="140.0" cy="167.4" rx="5.8" ry="3.5"/><ellipse cx="158.5" cy="170.1" rx="5.1" ry="3.5"/><ellipse cx="103.0" cy="161.1" rx="4.6" ry="3.5"/><ellipse cx="121.0" cy="170.6" rx="5.6" ry="3.5"/><ellipse cx="140.0" cy="177.0" rx="5.8" ry="3.5"/><ellipse cx="158.5" cy="179.7" rx="5.1" ry="3.5"/><ellipse cx="103.0" cy="170.7" rx="4.6" ry="3.5"/><ellipse cx="121.0" cy="180.2" rx="5.6" ry="3.5"/><ellipse cx="140.0" cy="186.6" rx="5.8" ry="3.5"/><ellipse cx="158.5" cy="189.3" rx="5.1" ry="3.5"/><ellipse cx="103.0" cy="180.3" rx="4.6" ry="3.5"/><ellipse cx="121.0" cy="189.8" rx="5.6" ry="3.5"/><ellipse cx="140.0" cy="196.2" rx="5.8" ry="3.5"/><ellipse cx="158.5" cy="198.9" rx="5.1" ry="3.5"/><ellipse cx="103.0" cy="189.8" rx="4.6" ry="3.5"/><ellipse cx="121.0" cy="199.4" rx="5.6" ry="3.5"/><ellipse cx="140.0" cy="205.7" rx="5.8" ry="3.5"/><ellipse cx="158.5" cy="208.5" rx="5.1" ry="3.5"/><ellipse cx="103.0" cy="199.4" rx="4.6" ry="3.5"/><ellipse cx="121.0" cy="209.0" rx="5.6" ry="3.5"/><ellipse cx="140.0" cy="215.3" rx="5.8" ry="3.5"/><ellipse cx="158.5" cy="218.1" rx="5.1" ry="3.5"/><ellipse cx="103.0" cy="209.0" rx="4.6" ry="3.5"/><ellipse cx="121.0" cy="218.5" rx="5.6" ry="3.5"/><ellipse cx="140.0" cy="224.8" rx="5.8" ry="3.5"/><ellipse cx="158.5" cy="227.6" rx="5.1" ry="3.5"/><ellipse cx="103.0" cy="218.5" rx="4.6" ry="3.5"/><ellipse cx="121.0" cy="228.1" rx="5.6" ry="3.5"/><ellipse cx="140.0" cy="234.4" rx="5.8" ry="3.5"/><ellipse cx="158.5" cy="237.2" rx="5.1" ry="3.5"/><ellipse cx="103.0" cy="228.1" rx="4.6" ry="3.5"/><ellipse cx="121.0" cy="237.6" rx="5.6" ry="3.5"/><ellipse cx="140.0" cy="243.9" rx="5.8" ry="3.5"/><ellipse cx="158.5" cy="246.8" rx="5.1" ry="3.5"/><ellipse cx="103.0" cy="237.7" rx="4.6" ry="3.5"/><ellipse cx="121.0" cy="247.2" rx="5.6" ry="3.5"/><ellipse cx="140.0" cy="253.5" rx="5.8" ry="3.5"/><ellipse cx="158.5" cy="256.3" rx="5.1" ry="3.5"/><ellipse cx="103.0" cy="247.2" rx="4.6" ry="3.5"/><ellipse cx="121.0" cy="256.7" rx="5.6" ry="3.5"/><ellipse cx="140.0" cy="263.1" rx="5.8" ry="3.5"/><ellipse cx="158.5" cy="265.9" rx="5.1" ry="3.5"/><ellipse cx="103.0" cy="256.8" rx="4.6" ry="3.5"/><ellipse cx="121.0" cy="266.3" rx="5.6" ry="3.5"/><ellipse cx="140.0" cy="272.7" rx="5.8" ry="3.5"/><ellipse cx="158.5" cy="275.5" rx="5.1" ry="3.5"/><ellipse cx="103.0" cy="266.4" rx="4.6" ry="3.5"/><ellipse cx="121.0" cy="275.9" rx="5.6" ry="3.5"/><ellipse cx="140.0" cy="282.3" rx="5.8" ry="3.5"/><ellipse cx="158.5" cy="285.1" rx="5.1" ry="3.5"/><ellipse cx="103.0" cy="276.0" rx="4.6" ry="3.5"/><ellipse cx="121.0" cy="285.5" rx="5.6" ry="3.5"/><ellipse cx="140.0" cy="291.9" rx="5.8" ry="3.5"/><ellipse cx="158.5" cy="294.7" rx="5.1" ry="3.5"/></g>
<g fill="#ff5d58" fill-opacity="0.30"><ellipse cx="112.0" cy="155.4" rx="5.1" ry="2.5"/><ellipse cx="130.0" cy="163.0" rx="5.6" ry="2.5"/><ellipse cx="149.0" cy="167.7" rx="5.4" ry="2.5"/><ellipse cx="170.0" cy="168.0" rx="3.9" ry="2.5"/><ellipse cx="112.0" cy="165.0" rx="5.1" ry="2.5"/><ellipse cx="130.0" cy="172.6" rx="5.6" ry="2.5"/><ellipse cx="149.0" cy="177.3" rx="5.4" ry="2.5"/><ellipse cx="170.0" cy="177.6" rx="3.9" ry="2.5"/><ellipse cx="112.0" cy="174.6" rx="5.1" ry="2.5"/><ellipse cx="130.0" cy="182.2" rx="5.6" ry="2.5"/><ellipse cx="149.0" cy="186.9" rx="5.4" ry="2.5"/><ellipse cx="170.0" cy="187.2" rx="3.9" ry="2.5"/><ellipse cx="112.0" cy="184.2" rx="5.1" ry="2.5"/><ellipse cx="130.0" cy="191.8" rx="5.6" ry="2.5"/><ellipse cx="149.0" cy="196.5" rx="5.4" ry="2.5"/><ellipse cx="170.0" cy="196.8" rx="3.9" ry="2.5"/><ellipse cx="112.0" cy="193.7" rx="5.1" ry="2.5"/><ellipse cx="130.0" cy="201.4" rx="5.6" ry="2.5"/><ellipse cx="149.0" cy="206.1" rx="5.4" ry="2.5"/><ellipse cx="170.0" cy="206.4" rx="3.9" ry="2.5"/><ellipse cx="112.0" cy="203.3" rx="5.1" ry="2.5"/><ellipse cx="130.0" cy="210.9" rx="5.6" ry="2.5"/><ellipse cx="149.0" cy="215.6" rx="5.4" ry="2.5"/><ellipse cx="170.0" cy="216.0" rx="3.9" ry="2.5"/><ellipse cx="112.0" cy="212.8" rx="5.1" ry="2.5"/><ellipse cx="130.0" cy="220.5" rx="5.6" ry="2.5"/><ellipse cx="149.0" cy="225.2" rx="5.4" ry="2.5"/><ellipse cx="170.0" cy="225.5" rx="3.9" ry="2.5"/><ellipse cx="112.0" cy="222.4" rx="5.1" ry="2.5"/><ellipse cx="130.0" cy="230.0" rx="5.6" ry="2.5"/><ellipse cx="149.0" cy="234.8" rx="5.4" ry="2.5"/><ellipse cx="170.0" cy="235.1" rx="3.9" ry="2.5"/><ellipse cx="112.0" cy="232.0" rx="5.1" ry="2.5"/><ellipse cx="130.0" cy="239.6" rx="5.6" ry="2.5"/><ellipse cx="149.0" cy="244.3" rx="5.4" ry="2.5"/><ellipse cx="170.0" cy="244.7" rx="3.9" ry="2.5"/><ellipse cx="112.0" cy="241.5" rx="5.1" ry="2.5"/><ellipse cx="130.0" cy="249.2" rx="5.6" ry="2.5"/><ellipse cx="149.0" cy="253.9" rx="5.4" ry="2.5"/><ellipse cx="170.0" cy="254.2" rx="3.9" ry="2.5"/><ellipse cx="112.0" cy="251.1" rx="5.1" ry="2.5"/><ellipse cx="130.0" cy="258.7" rx="5.6" ry="2.5"/><ellipse cx="149.0" cy="263.4" rx="5.4" ry="2.5"/><ellipse cx="170.0" cy="263.8" rx="3.9" ry="2.5"/><ellipse cx="112.0" cy="260.7" rx="5.1" ry="2.5"/><ellipse cx="130.0" cy="268.3" rx="5.6" ry="2.5"/><ellipse cx="149.0" cy="273.0" rx="5.4" ry="2.5"/><ellipse cx="170.0" cy="273.4" rx="3.9" ry="2.5"/><ellipse cx="112.0" cy="270.3" rx="5.1" ry="2.5"/><ellipse cx="130.0" cy="277.9" rx="5.6" ry="2.5"/><ellipse cx="149.0" cy="282.6" rx="5.4" ry="2.5"/><ellipse cx="170.0" cy="283.0" rx="3.9" ry="2.5"/><ellipse cx="112.0" cy="279.9" rx="5.1" ry="2.5"/><ellipse cx="130.0" cy="287.5" rx="5.6" ry="2.5"/><ellipse cx="149.0" cy="292.2" rx="5.4" ry="2.5"/><ellipse cx="170.0" cy="292.6" rx="3.9" ry="2.5"/></g>
<ellipse cx="134.0" cy="173.7" rx="48.4" ry="21.3" fill="#f52a2e"/>
<ellipse cx="120.0" cy="159.0" rx="4.0" ry="1.6" transform="rotate(-50 120.0 159.0)" fill="#b8141c" fill-opacity="0.40"/>
<ellipse cx="138.5" cy="161.6" rx="5.0" ry="2.0" transform="rotate(-75 138.5 161.6)" fill="#b8141c" fill-opacity="0.40"/>
<ellipse cx="96.0" cy="172.0" rx="4.0" ry="1.5" transform="rotate(-45 96.0 172.0)" fill="#b8141c" fill-opacity="0.40"/>
<ellipse cx="96.7" cy="168.0" rx="5.0" ry="2.0" transform="rotate(-45 96.7 168.0)" fill="#ff5d58" fill-opacity="0.40"/>
<ellipse cx="113.0" cy="160.7" rx="6.0" ry="2.0" transform="rotate(-45 113.0 160.7)" fill="#ff5d58" fill-opacity="0.40"/>
<ellipse cx="129.5" cy="158.0" rx="6.0" ry="1.8" transform="rotate(-20 129.5 158.0)" fill="#ff5d58" fill-opacity="0.40"/>
<ellipse cx="147.6" cy="160.7" rx="7.0" ry="2.0" transform="rotate(5 147.6 160.7)" fill="#ff5d58" fill-opacity="0.40"/>
<ellipse cx="164.0" cy="166.0" rx="6.0" ry="2.0" transform="rotate(25 164.0 166.0)" fill="#ff5d58" fill-opacity="0.40"/>
<ellipse cx="147.6" cy="186.0" rx="9.0" ry="2.0" transform="rotate(8 147.6 186.0)" fill="#ff5d58" fill-opacity="0.40"/>
<ellipse cx="126.0" cy="189.0" rx="10.0" ry="2.0" transform="rotate(5 126.0 189.0)" fill="#ff5d58" fill-opacity="0.40"/>
<ellipse cx="106.0" cy="184.0" rx="8.0" ry="2.0" transform="rotate(15 106.0 184.0)" fill="#ff5d58" fill-opacity="0.40"/>
<ellipse cx="174.0" cy="172.0" rx="4.0" ry="1.6" transform="rotate(50 174.0 172.0)" fill="#ff5d58" fill-opacity="0.40"/>
<path d="M92 169Q106 178 120 185" fill="none" stroke="#ff5d58" stroke-width="1.6" stroke-linecap="round" stroke-opacity=".5" transform="translate(-1.6 -2)"/>
<path d="M92 169Q106 178 120 185" fill="none" stroke="#b8141c" stroke-width="2.8" stroke-linecap="round" stroke-opacity=".45"/>
<path d="M102 165Q114 175 123 183" fill="none" stroke="#ff5d58" stroke-width="1.6" stroke-linecap="round" stroke-opacity=".5" transform="translate(-1.6 -2)"/>
<path d="M102 165Q114 175 123 183" fill="none" stroke="#b8141c" stroke-width="2.8" stroke-linecap="round" stroke-opacity=".45"/>
<path d="M114 160Q123 169 127 178" fill="none" stroke="#ff5d58" stroke-width="1.6" stroke-linecap="round" stroke-opacity=".5" transform="translate(-1.6 -2)"/>
<path d="M114 160Q123 169 127 178" fill="none" stroke="#b8141c" stroke-width="2.8" stroke-linecap="round" stroke-opacity=".45"/>
<path d="M126 157Q133 167 134 177" fill="none" stroke="#ff5d58" stroke-width="1.6" stroke-linecap="round" stroke-opacity=".5" transform="translate(-1.6 -2)"/>
<path d="M126 157Q133 167 134 177" fill="none" stroke="#b8141c" stroke-width="2.8" stroke-linecap="round" stroke-opacity=".45"/>
<path d="M139 157Q140 165 144 173T150 177" fill="none" stroke="#ff5d58" stroke-width="1.6" stroke-linecap="round" stroke-opacity=".5" transform="translate(-1.6 -2)"/>
<path d="M139 157Q140 165 144 173T150 177" fill="none" stroke="#b8141c" stroke-width="2.8" stroke-linecap="round" stroke-opacity=".45"/>
<path d="M164 162Q170 171 173 181T174 190" fill="none" stroke="#ff5d58" stroke-width="1.6" stroke-linecap="round" stroke-opacity=".5" transform="translate(-1.6 -2)"/>
<path d="M164 162Q170 171 173 181T174 190" fill="none" stroke="#b8141c" stroke-width="2.8" stroke-linecap="round" stroke-opacity=".45"/>
<path d="M150 161Q157 167 159 173" fill="none" stroke="#ff5d58" stroke-width="1.6" stroke-linecap="round" stroke-opacity=".5" transform="translate(-1.6 -2)"/>
<path d="M150 161Q157 167 159 173" fill="none" stroke="#b8141c" stroke-width="2.8" stroke-linecap="round" stroke-opacity=".45"/>
<path d="M152 183a5 6.5 0 1 0 10 0a5 6.5 0 1 0 -10 0" fill="none" stroke="#ff5d58" stroke-width="1.6" stroke-linecap="round" stroke-opacity=".5" transform="translate(-1.6 -2)"/>
<path d="M152 183a5 6.5 0 1 0 10 0a5 6.5 0 1 0 -10 0" fill="none" stroke="#b8141c" stroke-width="2.8" stroke-linecap="round" stroke-opacity=".45"/>
<path d="M91 183Q110 188 134 190Q146 188 156 175" fill="none" stroke="#ff5d58" stroke-width="1.6" stroke-linecap="round" stroke-opacity=".5" transform="translate(-1.6 -2)"/>
<path d="M91 183Q110 188 134 190Q146 188 156 175" fill="none" stroke="#b8141c" stroke-width="2.8" stroke-linecap="round" stroke-opacity=".45"/>
<rect x="85.6" y="146.4" width="96.8" height="149.2" fill="url(#gR)"/>
<path d="M95 251.5C97 250 101 251 103 254.5C100 255.5 96.5 254 95 251.5Z" fill="#fff"/>
<path d="M115 259.2C117 258.6 120 259.6 121 261.4C118.5 262 116 260.8 115 259.2Z" fill="#fff"/>
<path d="M157 255C158.5 254 161 254.4 162 255.6C160.5 256.6 158 256.4 157 255Z" fill="#fff"/>
<path d="M117.5 226.5h1.2v1.2h-1.2ZM118.5 238.5h1.2v1.2h-1.2ZM118.5 247.5h1.2v1.2h-1.2Z" fill="#fff"/>
<path d="M88.6 179.5l1.2 -2.5l0.6 1.2l-1 2.3Z" fill="#fff"/>
</g>
<clipPath id="cG"><path d="M203.6 145.0L203.0 141.0L203.6 134.0L206.0 129.5L210.0 126.0L215.0 122.8L220.0 120.4L227.0 118.4L234.0 117.0L242.0 116.0L250.0 115.6L258.0 116.0L266.0 117.0L274.0 118.8L282.0 121.0L288.0 123.6L294.0 127.0L299.0 132.0L302.0 138.0L302.0 146.0L301.6 170.0L301.2 190.0L300.4 200.0L299.0 208.0L297.0 214.0L294.0 211.0L290.0 217.0L287.6 224.0L284.0 220.0L278.0 223.6L271.0 227.0L265.0 230.4L258.0 228.0L250.0 229.0L240.0 231.0L232.0 227.6L224.0 223.6L218.0 225.6L217.0 224.0L210.0 218.0L205.0 213.0L203.6 212.0L202.4 211.0L203.6 203.0L202.4 200.5L203.6 192.0L202.4 189.5L203.6 181.0L202.4 178.5L203.6 170.0L202.4 167.5L203.6 159.0L202.4 156.5L203.6 148.0Z"/></clipPath>
<linearGradient id="gG" x1="0" x2="1" y1="0" y2="0"><stop offset="0" stop-color="#226806" stop-opacity="0.3"/><stop offset="0.15" stop-color="#226806" stop-opacity="0"/><stop offset="0.5" stop-color="#80e21c" stop-opacity="0.1"/><stop offset="0.85" stop-color="#226806" stop-opacity="0"/><stop offset="1" stop-color="#226806" stop-opacity="0.25"/></linearGradient>
<g clip-path="url(#cG)">
<rect x="201.6" y="109.6" width="102.0" height="148.0" fill="#48b20c"/>
<linearGradient id="kG" gradientUnits="userSpaceOnUse" x1="203.6" x2="301.6" y1="0" y2="0"><stop offset="0.035" stop-color="#226806" stop-opacity="0.60"/><stop offset="0.188" stop-color="#80e21c" stop-opacity="0.55"/><stop offset="0.331" stop-color="#226806" stop-opacity="0.60"/><stop offset="0.463" stop-color="#80e21c" stop-opacity="0.55"/><stop offset="0.555" stop-color="#226806" stop-opacity="0.60"/><stop offset="0.667" stop-color="#80e21c" stop-opacity="0.55"/><stop offset="0.780" stop-color="#226806" stop-opacity="0.60"/><stop offset="0.871" stop-color="#80e21c" stop-opacity="0.55"/><stop offset="0.963" stop-color="#226806" stop-opacity="0.60"/></linearGradient>
<rect x="203.6" y="109.6" width="98.0" height="148.0" fill="url(#kG)"/>
<path d="M203.6 108.7L203.7 110.2L204.0 111.6L204.5 112.8L205.3 114.1L206.2 115.2L207.3 116.4L208.7 117.5L210.2 118.6L211.9 119.7L213.7 120.9L215.8 122.0L218.0 123.0L220.3 123.9L222.8 124.5L225.4 124.9L228.1 124.5L230.9 123.7L233.8 122.8L236.8 122.4L239.9 122.4L243.0 122.6L246.2 122.8L249.4 122.7L252.6 121.7L255.8 119.3L259.0 117.9L262.2 117.4L265.3 117.1L268.4 116.6L271.4 115.6L274.3 113.6L277.1 111.0L279.8 108.9L282.4 107.6L284.9 106.7L287.2 105.9L289.4 104.7L291.5 103.0L293.3 100.7L295.0 98.1L296.5 95.7L297.9 93.7L299.0 92.0L299.9 90.5L300.7 88.9L301.2 87.4L301.5 85.9L301.6 84.3M203.6 119.7L203.7 121.2L204.0 122.6L204.5 123.8L205.3 125.1L206.2 126.2L207.3 127.4L208.7 128.5L210.2 129.6L211.9 130.7L213.7 131.9L215.8 133.0L218.0 134.0L220.3 134.9L222.8 135.5L225.4 135.9L228.1 135.5L230.9 134.7L233.8 133.8L236.8 133.4L239.9 133.4L243.0 133.6L246.2 133.8L249.4 133.7L252.6 132.7L255.8 130.3L259.0 128.9L262.2 128.4L265.3 128.1L268.4 127.6L271.4 126.6L274.3 124.6L277.1 122.0L279.8 119.9L282.4 118.6L284.9 117.7L287.2 116.9L289.4 115.7L291.5 114.0L293.3 111.7L295.0 109.1L296.5 106.7L297.9 104.7L299.0 103.0L299.9 101.5L300.7 99.9L301.2 98.4L301.5 96.9L301.6 95.3M203.6 130.7L203.7 132.2L204.0 133.6L204.5 134.8L205.3 136.1L206.2 137.2L207.3 138.4L208.7 139.5L210.2 140.6L211.9 141.7L213.7 142.9L215.8 144.0L218.0 145.0L220.3 145.9L222.8 146.5L225.4 146.9L228.1 146.5L230.9 145.7L233.8 144.8L236.8 144.4L239.9 144.4L243.0 144.6L246.2 144.8L249.4 144.7L252.6 143.7L255.8 141.3L259.0 139.9L262.2 139.4L265.3 139.1L268.4 138.6L271.4 137.6L274.3 135.6L277.1 133.0L279.8 130.9L282.4 129.6L284.9 128.7L287.2 127.9L289.4 126.7L291.5 125.0L293.3 122.7L295.0 120.1L296.5 117.7L297.9 115.7L299.0 114.0L299.9 112.5L300.7 110.9L301.2 109.4L301.5 107.9L301.6 106.3M203.6 141.7L203.7 143.2L204.0 144.6L204.5 145.8L205.3 147.1L206.2 148.2L207.3 149.4L208.7 150.5L210.2 151.6L211.9 152.7L213.7 153.9L215.8 155.0L218.0 156.0L220.3 156.9L222.8 157.5L225.4 157.9L228.1 157.5L230.9 156.7L233.8 155.8L236.8 155.4L239.9 155.4L243.0 155.6L246.2 155.8L249.4 155.7L252.6 154.7L255.8 152.3L259.0 150.9L262.2 150.4L265.3 150.1L268.4 149.6L271.4 148.6L274.3 146.6L277.1 144.0L279.8 141.9L282.4 140.6L284.9 139.7L287.2 138.9L289.4 137.7L291.5 136.0L293.3 133.7L295.0 131.1L296.5 128.7L297.9 126.7L299.0 125.0L299.9 123.5L300.7 121.9L301.2 120.4L301.5 118.9L301.6 117.3M203.6 152.7L203.7 154.1L204.0 155.5L204.5 156.8L205.3 157.9L206.2 159.1L207.3 160.2L208.7 161.3L210.2 162.4L211.9 163.5L213.7 164.6L215.8 165.7L218.0 166.7L220.3 167.5L222.8 168.2L225.4 168.5L228.1 168.2L230.9 167.3L233.8 166.4L236.8 165.9L239.9 166.0L243.0 166.2L246.2 166.4L249.4 166.3L252.6 165.3L255.8 162.9L259.0 161.5L262.2 160.9L265.3 160.7L268.4 160.2L271.4 159.2L274.3 157.2L277.1 154.6L279.8 152.5L282.4 151.2L284.9 150.4L287.2 149.6L289.4 148.4L291.5 146.8L293.3 144.4L295.0 141.9L296.5 139.5L297.9 137.6L299.0 135.9L299.9 134.3L300.7 132.8L301.2 131.3L301.5 129.8L301.6 128.3M203.6 163.7L203.7 165.1L204.0 166.4L204.5 167.7L205.3 168.8L206.2 169.9L207.3 171.0L208.7 172.1L210.2 173.2L211.9 174.2L213.7 175.3L215.8 176.4L218.0 177.4L220.3 178.2L222.8 178.8L225.4 179.1L228.1 178.8L230.9 177.9L233.8 176.9L236.8 176.5L239.9 176.5L243.0 176.7L246.2 176.9L249.4 176.8L252.6 175.8L255.8 173.4L259.0 172.0L262.2 171.5L265.3 171.2L268.4 170.8L271.4 169.7L274.3 167.7L277.1 165.2L279.8 163.1L282.4 161.9L284.9 161.1L287.2 160.2L289.4 159.1L291.5 157.5L293.3 155.2L295.0 152.6L296.5 150.3L297.9 148.4L299.0 146.7L299.9 145.2L300.7 143.7L301.2 142.3L301.5 140.8L301.6 139.3M203.6 174.7L203.7 176.1L204.0 177.4L204.5 178.6L205.3 179.7L206.2 180.8L207.3 181.8L208.7 182.9L210.2 183.9L211.9 185.0L213.7 186.0L215.8 187.1L218.0 188.0L220.3 188.9L222.8 189.5L225.4 189.7L228.1 189.4L230.9 188.5L233.8 187.5L236.8 187.1L239.9 187.1L243.0 187.3L246.2 187.5L249.4 187.4L252.6 186.4L255.8 184.0L259.0 182.6L262.2 182.0L265.3 181.8L268.4 181.3L271.4 180.3L274.3 178.3L277.1 175.8L279.8 173.8L282.4 172.5L284.9 171.7L287.2 170.9L289.4 169.8L291.5 168.2L293.3 165.9L295.0 163.4L296.5 161.1L297.9 159.2L299.0 157.6L299.9 156.1L300.7 154.7L301.2 153.2L301.5 151.8L301.6 150.3M203.6 185.7L203.7 187.0L204.0 188.3L204.5 189.5L205.3 190.6L206.2 191.6L207.3 192.7L208.7 193.7L210.2 194.7L211.9 195.7L213.7 196.8L215.8 197.8L218.0 198.7L220.3 199.5L222.8 200.1L225.4 200.4L228.1 200.0L230.9 199.1L233.8 198.1L236.8 197.7L239.9 197.6L243.0 197.9L246.2 198.0L249.4 197.9L252.6 196.9L255.8 194.5L259.0 193.1L262.2 192.6L265.3 192.3L268.4 191.9L271.4 190.9L274.3 188.9L277.1 186.4L279.8 184.4L282.4 183.2L284.9 182.4L287.2 181.6L289.4 180.5L291.5 178.9L293.3 176.7L295.0 174.2L296.5 171.9L297.9 170.0L299.0 168.5L299.9 167.0L300.7 165.6L301.2 164.2L301.5 162.7L301.6 161.3M203.6 196.7L203.7 198.0L204.0 199.3L204.5 200.4L205.3 201.5L206.2 202.5L207.3 203.5L208.7 204.5L210.2 205.5L211.9 206.5L213.7 207.5L215.8 208.5L218.0 209.4L220.3 210.2L222.8 210.8L225.4 211.0L228.1 210.6L230.9 209.6L233.8 208.7L236.8 208.2L239.9 208.2L243.0 208.4L246.2 208.6L249.4 208.5L252.6 207.5L255.8 205.1L259.0 203.7L262.2 203.2L265.3 202.9L268.4 202.5L271.4 201.5L274.3 199.5L277.1 197.0L279.8 195.0L282.4 193.8L284.9 193.0L287.2 192.3L289.4 191.2L291.5 189.7L293.3 187.4L295.0 185.0L296.5 182.7L297.9 180.9L299.0 179.3L299.9 177.9L300.7 176.5L301.2 175.1L301.5 173.7L301.6 172.3M203.6 207.7L203.7 209.0L204.0 210.2L204.5 211.3L205.3 212.4L206.2 213.3L207.3 214.3L208.7 215.3L210.2 216.3L211.9 217.2L213.7 218.2L215.8 219.2L218.0 220.1L220.3 220.9L222.8 221.4L225.4 221.6L228.1 221.2L230.9 220.2L233.8 219.3L236.8 218.8L239.9 218.8L243.0 219.0L246.2 219.1L249.4 219.0L252.6 218.0L255.8 215.6L259.0 214.2L262.2 213.7L265.3 213.5L268.4 213.1L271.4 212.1L274.3 210.1L277.1 207.6L279.8 205.6L282.4 204.5L284.9 203.7L287.2 203.0L289.4 201.9L291.5 200.4L293.3 198.2L295.0 195.7L296.5 193.5L297.9 191.7L299.0 190.2L299.9 188.8L300.7 187.4L301.2 186.0L301.5 184.7L301.6 183.3M203.6 218.7L203.7 220.0L204.0 221.2L204.5 222.3L205.3 223.4L206.2 224.3L207.3 225.3L208.7 226.3L210.2 227.3L211.9 228.2L213.7 229.2L215.8 230.2L218.0 231.1L220.3 231.9L222.8 232.4L225.4 232.6L228.1 232.2L230.9 231.2L233.8 230.3L236.8 229.8L239.9 229.8L243.0 230.0L246.2 230.1L249.4 230.0L252.6 229.0L255.8 226.6L259.0 225.2L262.2 224.7L265.3 224.5L268.4 224.1L271.4 223.1L274.3 221.1L277.1 218.6L279.8 216.6L282.4 215.5L284.9 214.7L287.2 214.0L289.4 212.9L291.5 211.4L293.3 209.2L295.0 206.7L296.5 204.5L297.9 202.7L299.0 201.2L299.9 199.8L300.7 198.4L301.2 197.0L301.5 195.7L301.6 194.3M203.6 229.7L203.7 231.0L204.0 232.2L204.5 233.3L205.3 234.4L206.2 235.3L207.3 236.3L208.7 237.3L210.2 238.3L211.9 239.2L213.7 240.2L215.8 241.2L218.0 242.1L220.3 242.9L222.8 243.4L225.4 243.6L228.1 243.2L230.9 242.2L233.8 241.3L236.8 240.8L239.9 240.8L243.0 241.0L246.2 241.1L249.4 241.0L252.6 240.0L255.8 237.6L259.0 236.2L262.2 235.7L265.3 235.5L268.4 235.1L271.4 234.1L274.3 232.1L277.1 229.6L279.8 227.6L282.4 226.5L284.9 225.7L287.2 225.0L289.4 223.9L291.5 222.4L293.3 220.2L295.0 217.7L296.5 215.5L297.9 213.7L299.0 212.2L299.9 210.8L300.7 209.4L301.2 208.0L301.5 206.7L301.6 205.3M203.6 240.7L203.7 242.0L204.0 243.2L204.5 244.3L205.3 245.4L206.2 246.3L207.3 247.3L208.7 248.3L210.2 249.3L211.9 250.2L213.7 251.2L215.8 252.2L218.0 253.1L220.3 253.9L222.8 254.4L225.4 254.6L228.1 254.2L230.9 253.2L233.8 252.3L236.8 251.8L239.9 251.8L243.0 252.0L246.2 252.1L249.4 252.0L252.6 251.0L255.8 248.6L259.0 247.2L262.2 246.7L265.3 246.5L268.4 246.1L271.4 245.1L274.3 243.1L277.1 240.6L279.8 238.6L282.4 237.5L284.9 236.7L287.2 236.0L289.4 234.9L291.5 233.4L293.3 231.2L295.0 228.7L296.5 226.5L297.9 224.7L299.0 223.2L299.9 221.8L300.7 220.4L301.2 219.0L301.5 217.7L301.6 216.3" fill="none" stroke="#226806" stroke-width="4.0" stroke-opacity="0.12"/>
<path d="M203.6 110.8L203.7 112.3L204.0 113.6L204.5 114.9L205.3 116.1L206.2 117.3L207.3 118.4L208.7 119.6L210.2 120.7L211.9 121.8L213.7 122.9L215.8 124.0L218.0 125.1L220.3 126.0L222.8 126.6L225.4 127.0L228.1 126.6L230.9 125.8L233.8 124.9L236.8 124.5L239.9 124.5L243.0 124.7L246.2 124.9L249.4 124.8L252.6 123.8L255.8 121.4L259.0 120.0L262.2 119.5L265.3 119.2L268.4 118.7L271.4 117.7L274.3 115.6L277.1 113.0L279.8 111.0L282.4 109.7L284.9 108.8L287.2 108.0L289.4 106.8L291.5 105.1L293.3 102.8L295.0 100.2L296.5 97.8L297.9 95.8L299.0 94.1L299.9 92.5L300.7 91.0L301.2 89.5L301.5 88.0L301.6 86.4M203.6 121.8L203.7 123.3L204.0 124.6L204.5 125.9L205.3 127.1L206.2 128.3L207.3 129.4L208.7 130.6L210.2 131.7L211.9 132.8L213.7 133.9L215.8 135.0L218.0 136.1L220.3 137.0L222.8 137.6L225.4 138.0L228.1 137.6L230.9 136.8L233.8 135.9L236.8 135.5L239.9 135.5L243.0 135.7L246.2 135.9L249.4 135.8L252.6 134.8L255.8 132.4L259.0 131.0L262.2 130.5L265.3 130.2L268.4 129.7L271.4 128.7L274.3 126.6L277.1 124.0L279.8 122.0L282.4 120.7L284.9 119.8L287.2 119.0L289.4 117.8L291.5 116.1L293.3 113.8L295.0 111.2L296.5 108.8L297.9 106.8L299.0 105.1L299.9 103.5L300.7 102.0L301.2 100.5L301.5 99.0L301.6 97.4M203.6 132.8L203.7 134.3L204.0 135.6L204.5 136.9L205.3 138.1L206.2 139.3L207.3 140.4L208.7 141.6L210.2 142.7L211.9 143.8L213.7 144.9L215.8 146.0L218.0 147.1L220.3 148.0L222.8 148.6L225.4 149.0L228.1 148.6L230.9 147.8L233.8 146.9L236.8 146.5L239.9 146.5L243.0 146.7L246.2 146.9L249.4 146.8L252.6 145.8L255.8 143.4L259.0 142.0L262.2 141.5L265.3 141.2L268.4 140.7L271.4 139.7L274.3 137.6L277.1 135.0L279.8 133.0L282.4 131.7L284.9 130.8L287.2 130.0L289.4 128.8L291.5 127.1L293.3 124.8L295.0 122.2L296.5 119.8L297.9 117.8L299.0 116.1L299.9 114.5L300.7 113.0L301.2 111.5L301.5 110.0L301.6 108.4M203.6 143.8L203.7 145.3L204.0 146.6L204.5 147.9L205.3 149.1L206.2 150.3L207.3 151.4L208.7 152.6L210.2 153.7L211.9 154.8L213.7 155.9L215.8 157.0L218.0 158.1L220.3 159.0L222.8 159.6L225.4 160.0L228.1 159.6L230.9 158.8L233.8 157.9L236.8 157.5L239.9 157.5L243.0 157.7L246.2 157.9L249.4 157.8L252.6 156.8L255.8 154.4L259.0 153.0L262.2 152.5L265.3 152.2L268.4 151.7L271.4 150.7L274.3 148.6L277.1 146.0L279.8 144.0L282.4 142.7L284.9 141.8L287.2 141.0L289.4 139.8L291.5 138.1L293.3 135.8L295.0 133.2L296.5 130.8L297.9 128.8L299.0 127.1L299.9 125.5L300.7 124.0L301.2 122.5L301.5 121.0L301.6 119.4M203.6 154.8L203.7 156.2L204.0 157.6L204.5 158.9L205.3 160.0L206.2 161.2L207.3 162.3L208.7 163.4L210.2 164.5L211.9 165.6L213.7 166.7L215.8 167.7L218.0 168.8L220.3 169.6L222.8 170.3L225.4 170.6L228.1 170.2L230.9 169.4L233.8 168.4L236.8 168.0L239.9 168.0L243.0 168.3L246.2 168.5L249.4 168.4L252.6 167.4L255.8 165.0L259.0 163.5L262.2 163.0L265.3 162.7L268.4 162.3L271.4 161.3L274.3 159.2L277.1 156.7L279.8 154.6L282.4 153.3L284.9 152.5L287.2 151.7L289.4 150.5L291.5 148.8L293.3 146.5L295.0 143.9L296.5 141.6L297.9 139.6L299.0 138.0L299.9 136.4L300.7 134.9L301.2 133.4L301.5 131.9L301.6 130.4M203.6 165.8L203.7 167.2L204.0 168.5L204.5 169.8L205.3 170.9L206.2 172.0L207.3 173.1L208.7 174.2L210.2 175.2L211.9 176.3L213.7 177.4L215.8 178.5L218.0 179.4L220.3 180.3L222.8 180.9L225.4 181.2L228.1 180.9L230.9 179.9L233.8 179.0L236.8 178.6L239.9 178.6L243.0 178.8L246.2 179.0L249.4 178.9L252.6 177.9L255.8 175.5L259.0 174.1L262.2 173.6L265.3 173.3L268.4 172.8L271.4 171.8L274.3 169.8L277.1 167.3L279.8 165.2L282.4 164.0L284.9 163.2L287.2 162.3L289.4 161.2L291.5 159.6L293.3 157.3L295.0 154.7L296.5 152.4L297.9 150.5L299.0 148.8L299.9 147.3L300.7 145.8L301.2 144.4L301.5 142.9L301.6 141.4M203.6 176.8L203.7 178.2L204.0 179.5L204.5 180.7L205.3 181.8L206.2 182.9L207.3 183.9L208.7 185.0L210.2 186.0L211.9 187.1L213.7 188.1L215.8 189.2L218.0 190.1L220.3 191.0L222.8 191.6L225.4 191.8L228.1 191.5L230.9 190.5L233.8 189.6L236.8 189.2L239.9 189.2L243.0 189.4L246.2 189.6L249.4 189.5L252.6 188.5L255.8 186.1L259.0 184.7L262.2 184.1L265.3 183.9L268.4 183.4L271.4 182.4L274.3 180.4L277.1 177.9L279.8 175.8L282.4 174.6L284.9 173.8L287.2 173.0L289.4 171.9L291.5 170.3L293.3 168.0L295.0 165.5L296.5 163.2L297.9 161.3L299.0 159.7L299.9 158.2L300.7 156.7L301.2 155.3L301.5 153.9L301.6 152.4M203.6 187.8L203.7 189.1L204.0 190.4L204.5 191.6L205.3 192.7L206.2 193.7L207.3 194.8L208.7 195.8L210.2 196.8L211.9 197.8L213.7 198.8L215.8 199.9L218.0 200.8L220.3 201.6L222.8 202.2L225.4 202.5L228.1 202.1L230.9 201.1L233.8 200.2L236.8 199.8L239.9 199.7L243.0 199.9L246.2 200.1L249.4 200.0L252.6 199.0L255.8 196.6L259.0 195.2L262.2 194.7L265.3 194.4L268.4 194.0L271.4 193.0L274.3 191.0L277.1 188.5L279.8 186.5L282.4 185.3L284.9 184.5L287.2 183.7L289.4 182.6L291.5 181.0L293.3 178.8L295.0 176.3L296.5 174.0L297.9 172.1L299.0 170.6L299.9 169.1L300.7 167.7L301.2 166.3L301.5 164.8L301.6 163.4M203.6 198.8L203.7 200.1L204.0 201.4L204.5 202.5L205.3 203.6L206.2 204.6L207.3 205.6L208.7 206.6L210.2 207.6L211.9 208.6L213.7 209.6L215.8 210.6L218.0 211.5L220.3 212.3L222.8 212.8L225.4 213.1L228.1 212.7L230.9 211.7L233.8 210.8L236.8 210.3L239.9 210.3L243.0 210.5L246.2 210.7L249.4 210.6L252.6 209.6L255.8 207.2L259.0 205.8L262.2 205.2L265.3 205.0L268.4 204.6L271.4 203.6L274.3 201.6L277.1 199.1L279.8 197.1L282.4 195.9L284.9 195.1L287.2 194.4L289.4 193.3L291.5 191.7L293.3 189.5L295.0 187.0L296.5 184.8L297.9 183.0L299.0 181.4L299.9 180.0L300.7 178.6L301.2 177.2L301.5 175.8L301.6 174.4M203.6 209.8L203.7 211.1L204.0 212.3L204.5 213.4L205.3 214.4L206.2 215.4L207.3 216.4L208.7 217.4L210.2 218.3L211.9 219.3L213.7 220.3L215.8 221.3L218.0 222.2L220.3 222.9L222.8 223.5L225.4 223.7L228.1 223.3L230.9 222.3L233.8 221.4L236.8 220.9L239.9 220.9L243.0 221.1L246.2 221.2L249.4 221.1L252.6 220.1L255.8 217.7L259.0 216.3L262.2 215.8L265.3 215.6L268.4 215.1L271.4 214.2L274.3 212.2L277.1 209.7L279.8 207.7L282.4 206.6L284.9 205.8L287.2 205.1L289.4 204.0L291.5 202.5L293.3 200.3L295.0 197.8L296.5 195.6L297.9 193.8L299.0 192.3L299.9 190.8L300.7 189.5L301.2 188.1L301.5 186.8L301.6 185.4M203.6 220.8L203.7 222.1L204.0 223.3L204.5 224.4L205.3 225.4L206.2 226.4L207.3 227.4L208.7 228.4L210.2 229.3L211.9 230.3L213.7 231.3L215.8 232.3L218.0 233.2L220.3 233.9L222.8 234.5L225.4 234.7L228.1 234.3L230.9 233.3L233.8 232.4L236.8 231.9L239.9 231.9L243.0 232.1L246.2 232.2L249.4 232.1L252.6 231.1L255.8 228.7L259.0 227.3L262.2 226.8L265.3 226.6L268.4 226.1L271.4 225.2L274.3 223.2L277.1 220.7L279.8 218.7L282.4 217.6L284.9 216.8L287.2 216.1L289.4 215.0L291.5 213.5L293.3 211.3L295.0 208.8L296.5 206.6L297.9 204.8L299.0 203.3L299.9 201.8L300.7 200.5L301.2 199.1L301.5 197.8L301.6 196.4M203.6 231.8L203.7 233.1L204.0 234.3L204.5 235.4L205.3 236.4L206.2 237.4L207.3 238.4L208.7 239.4L210.2 240.3L211.9 241.3L213.7 242.3L215.8 243.3L218.0 244.2L220.3 244.9L222.8 245.5L225.4 245.7L228.1 245.3L230.9 244.3L233.8 243.4L236.8 242.9L239.9 242.9L243.0 243.1L246.2 243.2L249.4 243.1L252.6 242.1L255.8 239.7L259.0 238.3L262.2 237.8L265.3 237.6L268.4 237.1L271.4 236.2L274.3 234.2L277.1 231.7L279.8 229.7L282.4 228.6L284.9 227.8L287.2 227.1L289.4 226.0L291.5 224.5L293.3 222.3L295.0 219.8L296.5 217.6L297.9 215.8L299.0 214.3L299.9 212.8L300.7 211.5L301.2 210.1L301.5 208.8L301.6 207.4M203.6 242.8L203.7 244.1L204.0 245.3L204.5 246.4L205.3 247.4L206.2 248.4L207.3 249.4L208.7 250.4L210.2 251.3L211.9 252.3L213.7 253.3L215.8 254.3L218.0 255.2L220.3 255.9L222.8 256.5L225.4 256.7L228.1 256.3L230.9 255.3L233.8 254.4L236.8 253.9L239.9 253.9L243.0 254.1L246.2 254.2L249.4 254.1L252.6 253.1L255.8 250.7L259.0 249.3L262.2 248.8L265.3 248.6L268.4 248.1L271.4 247.2L274.3 245.2L277.1 242.7L279.8 240.7L282.4 239.6L284.9 238.8L287.2 238.1L289.4 237.0L291.5 235.5L293.3 233.3L295.0 230.8L296.5 228.6L297.9 226.8L299.0 225.3L299.9 223.8L300.7 222.5L301.2 221.1L301.5 219.8L301.6 218.4" fill="none" stroke="#226806" stroke-width="1.5" stroke-opacity="0.60"/>
<path d="M203.6 112.3L203.7 113.8L204.0 115.2L204.5 116.5L205.3 117.7L206.2 118.8L207.3 120.0L208.7 121.1L210.2 122.2L211.9 123.4L213.7 124.5L215.8 125.6L218.0 126.6L220.3 127.5L222.8 128.2L225.4 128.5L228.1 128.2L230.9 127.3L233.8 126.4L236.8 126.0L239.9 126.0L243.0 126.3L246.2 126.5L249.4 126.4L252.6 125.3L255.8 123.0L259.0 121.5L262.2 121.0L265.3 120.7L268.4 120.2L271.4 119.2L274.3 117.2L277.1 114.6L279.8 112.5L282.4 111.2L284.9 110.4L287.2 109.5L289.4 108.3L291.5 106.7L293.3 104.3L295.0 101.7L296.5 99.3L297.9 97.4L299.0 95.7L299.9 94.1L300.7 92.6L301.2 91.0L301.5 89.5L301.6 88.0M203.6 123.3L203.7 124.8L204.0 126.2L204.5 127.5L205.3 128.7L206.2 129.8L207.3 131.0L208.7 132.1L210.2 133.2L211.9 134.4L213.7 135.5L215.8 136.6L218.0 137.6L220.3 138.5L222.8 139.2L225.4 139.5L228.1 139.2L230.9 138.3L233.8 137.4L236.8 137.0L239.9 137.0L243.0 137.3L246.2 137.5L249.4 137.4L252.6 136.3L255.8 134.0L259.0 132.5L262.2 132.0L265.3 131.7L268.4 131.2L271.4 130.2L274.3 128.2L277.1 125.6L279.8 123.5L282.4 122.2L284.9 121.4L287.2 120.5L289.4 119.3L291.5 117.7L293.3 115.3L295.0 112.7L296.5 110.3L297.9 108.4L299.0 106.7L299.9 105.1L300.7 103.6L301.2 102.0L301.5 100.5L301.6 99.0M203.6 134.3L203.7 135.8L204.0 137.2L204.5 138.5L205.3 139.7L206.2 140.8L207.3 142.0L208.7 143.1L210.2 144.2L211.9 145.4L213.7 146.5L215.8 147.6L218.0 148.6L220.3 149.5L222.8 150.2L225.4 150.5L228.1 150.2L230.9 149.3L233.8 148.4L236.8 148.0L239.9 148.0L243.0 148.3L246.2 148.5L249.4 148.4L252.6 147.3L255.8 145.0L259.0 143.5L262.2 143.0L265.3 142.7L268.4 142.2L271.4 141.2L274.3 139.2L277.1 136.6L279.8 134.5L282.4 133.2L284.9 132.4L287.2 131.5L289.4 130.3L291.5 128.7L293.3 126.3L295.0 123.7L296.5 121.3L297.9 119.4L299.0 117.7L299.9 116.1L300.7 114.6L301.2 113.0L301.5 111.5L301.6 110.0M203.6 145.3L203.7 146.8L204.0 148.2L204.5 149.5L205.3 150.7L206.2 151.8L207.3 153.0L208.7 154.1L210.2 155.2L211.9 156.4L213.7 157.5L215.8 158.6L218.0 159.6L220.3 160.5L222.8 161.2L225.4 161.5L228.1 161.2L230.9 160.3L233.8 159.4L236.8 159.0L239.9 159.0L243.0 159.3L246.2 159.5L249.4 159.4L252.6 158.3L255.8 156.0L259.0 154.5L262.2 154.0L265.3 153.7L268.4 153.2L271.4 152.2L274.3 150.2L277.1 147.6L279.8 145.5L282.4 144.2L284.9 143.4L287.2 142.5L289.4 141.3L291.5 139.7L293.3 137.3L295.0 134.7L296.5 132.3L297.9 130.4L299.0 128.7L299.9 127.1L300.7 125.6L301.2 124.0L301.5 122.5L301.6 121.0M203.6 156.3L203.7 157.8L204.0 159.1L204.5 160.4L205.3 161.6L206.2 162.7L207.3 163.8L208.7 164.9L210.2 166.0L211.9 167.1L213.7 168.2L215.8 169.3L218.0 170.3L220.3 171.2L222.8 171.8L225.4 172.1L228.1 171.8L230.9 170.9L233.8 170.0L236.8 169.6L239.9 169.6L243.0 169.8L246.2 170.0L249.4 169.9L252.6 168.9L255.8 166.5L259.0 165.1L262.2 164.6L265.3 164.3L268.4 163.8L271.4 162.8L274.3 160.8L277.1 158.2L279.8 156.1L282.4 154.9L284.9 154.0L287.2 153.2L289.4 152.0L291.5 150.4L293.3 148.1L295.0 145.5L296.5 143.1L297.9 141.2L299.0 139.5L299.9 138.0L300.7 136.5L301.2 135.0L301.5 133.5L301.6 132.0M203.6 167.3L203.7 168.7L204.0 170.1L204.5 171.3L205.3 172.5L206.2 173.6L207.3 174.6L208.7 175.7L210.2 176.8L211.9 177.9L213.7 178.9L215.8 180.0L218.0 181.0L220.3 181.8L222.8 182.5L225.4 182.7L228.1 182.4L230.9 181.5L233.8 180.6L236.8 180.1L239.9 180.1L243.0 180.4L246.2 180.6L249.4 180.5L252.6 179.4L255.8 177.1L259.0 175.6L262.2 175.1L265.3 174.8L268.4 174.4L271.4 173.4L274.3 171.4L277.1 168.8L279.8 166.8L282.4 165.5L284.9 164.7L287.2 163.9L289.4 162.7L291.5 161.1L293.3 158.8L295.0 156.3L296.5 153.9L297.9 152.0L299.0 150.4L299.9 148.9L300.7 147.4L301.2 145.9L301.5 144.4L301.6 143.0M203.6 178.3L203.7 179.7L204.0 181.0L204.5 182.2L205.3 183.3L206.2 184.4L207.3 185.5L208.7 186.5L210.2 187.6L211.9 188.6L213.7 189.7L215.8 190.7L218.0 191.7L220.3 192.5L222.8 193.1L225.4 193.4L228.1 193.0L230.9 192.1L233.8 191.1L236.8 190.7L239.9 190.7L243.0 190.9L246.2 191.1L249.4 191.0L252.6 190.0L255.8 187.6L259.0 186.2L262.2 185.7L265.3 185.4L268.4 185.0L271.4 184.0L274.3 182.0L277.1 179.4L279.8 177.4L282.4 176.2L284.9 175.4L287.2 174.6L289.4 173.4L291.5 171.8L293.3 169.6L295.0 167.0L296.5 164.7L297.9 162.8L299.0 161.2L299.9 159.7L300.7 158.3L301.2 156.9L301.5 155.4L301.6 154.0M203.6 189.3L203.7 190.7L204.0 192.0L204.5 193.1L205.3 194.2L206.2 195.3L207.3 196.3L208.7 197.3L210.2 198.3L211.9 199.4L213.7 200.4L215.8 201.4L218.0 202.3L220.3 203.2L222.8 203.7L225.4 204.0L228.1 203.6L230.9 202.7L233.8 201.7L236.8 201.3L239.9 201.3L243.0 201.5L246.2 201.7L249.4 201.6L252.6 200.5L255.8 198.2L259.0 196.7L262.2 196.2L265.3 196.0L268.4 195.5L271.4 194.5L274.3 192.6L277.1 190.0L279.8 188.0L282.4 186.8L284.9 186.0L287.2 185.2L289.4 184.1L291.5 182.6L293.3 180.3L295.0 177.8L296.5 175.5L297.9 173.7L299.0 172.1L299.9 170.6L300.7 169.2L301.2 167.8L301.5 166.4L301.6 165.0M203.6 200.3L203.7 201.6L204.0 202.9L204.5 204.0L205.3 205.1L206.2 206.1L207.3 207.1L208.7 208.1L210.2 209.1L211.9 210.1L213.7 211.1L215.8 212.1L218.0 213.0L220.3 213.8L222.8 214.4L225.4 214.6L228.1 214.2L230.9 213.3L233.8 212.3L236.8 211.9L239.9 211.8L243.0 212.0L246.2 212.2L249.4 212.1L252.6 211.1L255.8 208.7L259.0 207.3L262.2 206.8L265.3 206.5L268.4 206.1L271.4 205.1L274.3 203.2L277.1 200.6L279.8 198.6L282.4 197.4L284.9 196.7L287.2 195.9L289.4 194.8L291.5 193.3L293.3 191.1L295.0 188.6L296.5 186.3L297.9 184.5L299.0 182.9L299.9 181.5L300.7 180.1L301.2 178.7L301.5 177.3L301.6 176.0M203.6 211.3L203.7 212.6L204.0 213.8L204.5 215.0L205.3 216.0L206.2 217.0L207.3 218.0L208.7 218.9L210.2 219.9L211.9 220.9L213.7 221.8L215.8 222.8L218.0 223.7L220.3 224.5L222.8 225.0L225.4 225.3L228.1 224.8L230.9 223.9L233.8 222.9L236.8 222.4L239.9 222.4L243.0 222.6L246.2 222.8L249.4 222.7L252.6 221.6L255.8 219.3L259.0 217.9L262.2 217.3L265.3 217.1L268.4 216.7L271.4 215.7L274.3 213.8L277.1 211.2L279.8 209.3L282.4 208.1L284.9 207.3L287.2 206.6L289.4 205.5L291.5 204.0L293.3 201.8L295.0 199.4L296.5 197.1L297.9 195.3L299.0 193.8L299.9 192.4L300.7 191.0L301.2 189.7L301.5 188.3L301.6 187.0M203.6 222.3L203.7 223.6L204.0 224.8L204.5 226.0L205.3 227.0L206.2 228.0L207.3 229.0L208.7 229.9L210.2 230.9L211.9 231.9L213.7 232.8L215.8 233.8L218.0 234.7L220.3 235.5L222.8 236.0L225.4 236.3L228.1 235.8L230.9 234.9L233.8 233.9L236.8 233.4L239.9 233.4L243.0 233.6L246.2 233.8L249.4 233.7L252.6 232.6L255.8 230.3L259.0 228.9L262.2 228.3L265.3 228.1L268.4 227.7L271.4 226.7L274.3 224.8L277.1 222.2L279.8 220.3L282.4 219.1L284.9 218.3L287.2 217.6L289.4 216.5L291.5 215.0L293.3 212.8L295.0 210.4L296.5 208.1L297.9 206.3L299.0 204.8L299.9 203.4L300.7 202.0L301.2 200.7L301.5 199.3L301.6 198.0M203.6 233.3L203.7 234.6L204.0 235.8L204.5 237.0L205.3 238.0L206.2 239.0L207.3 240.0L208.7 240.9L210.2 241.9L211.9 242.9L213.7 243.8L215.8 244.8L218.0 245.7L220.3 246.5L222.8 247.0L225.4 247.3L228.1 246.8L230.9 245.9L233.8 244.9L236.8 244.4L239.9 244.4L243.0 244.6L246.2 244.8L249.4 244.7L252.6 243.6L255.8 241.3L259.0 239.9L262.2 239.3L265.3 239.1L268.4 238.7L271.4 237.7L274.3 235.8L277.1 233.2L279.8 231.3L282.4 230.1L284.9 229.3L287.2 228.6L289.4 227.5L291.5 226.0L293.3 223.8L295.0 221.4L296.5 219.1L297.9 217.3L299.0 215.8L299.9 214.4L300.7 213.0L301.2 211.7L301.5 210.3L301.6 209.0M203.6 244.3L203.7 245.6L204.0 246.8L204.5 248.0L205.3 249.0L206.2 250.0L207.3 251.0L208.7 251.9L210.2 252.9L211.9 253.9L213.7 254.8L215.8 255.8L218.0 256.7L220.3 257.5L222.8 258.0L225.4 258.3L228.1 257.8L230.9 256.9L233.8 255.9L236.8 255.4L239.9 255.4L243.0 255.6L246.2 255.8L249.4 255.7L252.6 254.6L255.8 252.3L259.0 250.9L262.2 250.3L265.3 250.1L268.4 249.7L271.4 248.7L274.3 246.8L277.1 244.2L279.8 242.3L282.4 241.1L284.9 240.3L287.2 239.6L289.4 238.5L291.5 237.0L293.3 234.8L295.0 232.4L296.5 230.1L297.9 228.3L299.0 226.8L299.9 225.4L300.7 224.0L301.2 222.7L301.5 221.3L301.6 220.0" fill="none" stroke="#80e21c" stroke-width="1.5" stroke-opacity="0.60"/>
<g fill="#226806" fill-opacity="0.30"><ellipse cx="207.0" cy="125.8" rx="2.6" ry="4.0"/><ellipse cx="236.0" cy="132.2" rx="5.5" ry="4.0"/><ellipse cx="258.0" cy="128.0" rx="5.8" ry="4.0"/><ellipse cx="280.0" cy="118.5" rx="4.9" ry="4.0"/><ellipse cx="298.0" cy="103.3" rx="2.7" ry="4.0"/><ellipse cx="207.0" cy="136.8" rx="2.6" ry="4.0"/><ellipse cx="236.0" cy="143.2" rx="5.5" ry="4.0"/><ellipse cx="258.0" cy="139.0" rx="5.8" ry="4.0"/><ellipse cx="280.0" cy="129.5" rx="4.9" ry="4.0"/><ellipse cx="298.0" cy="114.3" rx="2.7" ry="4.0"/><ellipse cx="207.0" cy="147.8" rx="2.6" ry="4.0"/><ellipse cx="236.0" cy="154.2" rx="5.5" ry="4.0"/><ellipse cx="258.0" cy="150.0" rx="5.8" ry="4.0"/><ellipse cx="280.0" cy="140.5" rx="4.9" ry="4.0"/><ellipse cx="298.0" cy="125.3" rx="2.7" ry="4.0"/><ellipse cx="207.0" cy="158.8" rx="2.6" ry="4.0"/><ellipse cx="236.0" cy="165.2" rx="5.5" ry="4.0"/><ellipse cx="258.0" cy="161.0" rx="5.8" ry="4.0"/><ellipse cx="280.0" cy="151.5" rx="4.9" ry="4.0"/><ellipse cx="298.0" cy="136.3" rx="2.7" ry="4.0"/><ellipse cx="207.0" cy="169.7" rx="2.6" ry="4.0"/><ellipse cx="236.0" cy="175.8" rx="5.5" ry="4.0"/><ellipse cx="258.0" cy="171.5" rx="5.8" ry="4.0"/><ellipse cx="280.0" cy="162.2" rx="4.9" ry="4.0"/><ellipse cx="298.0" cy="147.1" rx="2.7" ry="4.0"/><ellipse cx="207.0" cy="180.5" rx="2.6" ry="4.0"/><ellipse cx="236.0" cy="186.4" rx="5.5" ry="4.0"/><ellipse cx="258.0" cy="182.1" rx="5.8" ry="4.0"/><ellipse cx="280.0" cy="172.8" rx="4.9" ry="4.0"/><ellipse cx="298.0" cy="158.0" rx="2.7" ry="4.0"/><ellipse cx="207.0" cy="191.3" rx="2.6" ry="4.0"/><ellipse cx="236.0" cy="196.9" rx="5.5" ry="4.0"/><ellipse cx="258.0" cy="192.6" rx="5.8" ry="4.0"/><ellipse cx="280.0" cy="183.4" rx="4.9" ry="4.0"/><ellipse cx="298.0" cy="168.8" rx="2.7" ry="4.0"/><ellipse cx="207.0" cy="202.2" rx="2.6" ry="4.0"/><ellipse cx="236.0" cy="207.5" rx="5.5" ry="4.0"/><ellipse cx="258.0" cy="203.2" rx="5.8" ry="4.0"/><ellipse cx="280.0" cy="194.1" rx="4.9" ry="4.0"/><ellipse cx="298.0" cy="179.6" rx="2.7" ry="4.0"/><ellipse cx="207.0" cy="213.0" rx="2.6" ry="4.0"/><ellipse cx="236.0" cy="218.1" rx="5.5" ry="4.0"/><ellipse cx="258.0" cy="213.7" rx="5.8" ry="4.0"/><ellipse cx="280.0" cy="204.7" rx="4.9" ry="4.0"/><ellipse cx="298.0" cy="190.5" rx="2.7" ry="4.0"/><ellipse cx="207.0" cy="223.8" rx="2.6" ry="4.0"/><ellipse cx="236.0" cy="228.7" rx="5.5" ry="4.0"/><ellipse cx="258.0" cy="224.3" rx="5.8" ry="4.0"/><ellipse cx="280.0" cy="215.3" rx="4.9" ry="4.0"/><ellipse cx="298.0" cy="201.3" rx="2.7" ry="4.0"/><ellipse cx="207.0" cy="234.8" rx="2.6" ry="4.0"/><ellipse cx="236.0" cy="239.7" rx="5.5" ry="4.0"/><ellipse cx="258.0" cy="235.3" rx="5.8" ry="4.0"/><ellipse cx="280.0" cy="226.3" rx="4.9" ry="4.0"/><ellipse cx="298.0" cy="212.3" rx="2.7" ry="4.0"/><ellipse cx="207.0" cy="245.8" rx="2.6" ry="4.0"/><ellipse cx="236.0" cy="250.7" rx="5.5" ry="4.0"/><ellipse cx="258.0" cy="246.3" rx="5.8" ry="4.0"/><ellipse cx="280.0" cy="237.3" rx="4.9" ry="4.0"/><ellipse cx="298.0" cy="223.3" rx="2.7" ry="4.0"/><ellipse cx="207.0" cy="256.8" rx="2.6" ry="4.0"/><ellipse cx="236.0" cy="261.7" rx="5.5" ry="4.0"/><ellipse cx="258.0" cy="257.3" rx="5.8" ry="4.0"/><ellipse cx="280.0" cy="248.3" rx="4.9" ry="4.0"/><ellipse cx="298.0" cy="234.3" rx="2.7" ry="4.0"/></g>
<g fill="#80e21c" fill-opacity="0.30"><ellipse cx="222.0" cy="130.3" rx="4.5" ry="2.9"/><ellipse cx="249.0" cy="128.6" rx="5.6" ry="2.9"/><ellipse cx="269.0" cy="122.3" rx="5.3" ry="2.9"/><ellipse cx="289.0" cy="110.9" rx="3.9" ry="2.9"/><ellipse cx="222.0" cy="141.3" rx="4.5" ry="2.9"/><ellipse cx="249.0" cy="139.6" rx="5.6" ry="2.9"/><ellipse cx="269.0" cy="133.3" rx="5.3" ry="2.9"/><ellipse cx="289.0" cy="121.9" rx="3.9" ry="2.9"/><ellipse cx="222.0" cy="152.3" rx="4.5" ry="2.9"/><ellipse cx="249.0" cy="150.6" rx="5.6" ry="2.9"/><ellipse cx="269.0" cy="144.3" rx="5.3" ry="2.9"/><ellipse cx="289.0" cy="132.9" rx="3.9" ry="2.9"/><ellipse cx="222.0" cy="163.3" rx="4.5" ry="2.9"/><ellipse cx="249.0" cy="161.6" rx="5.6" ry="2.9"/><ellipse cx="269.0" cy="155.3" rx="5.3" ry="2.9"/><ellipse cx="289.0" cy="143.9" rx="3.9" ry="2.9"/><ellipse cx="222.0" cy="173.9" rx="4.5" ry="2.9"/><ellipse cx="249.0" cy="172.2" rx="5.6" ry="2.9"/><ellipse cx="269.0" cy="165.9" rx="5.3" ry="2.9"/><ellipse cx="289.0" cy="154.6" rx="3.9" ry="2.9"/><ellipse cx="222.0" cy="184.6" rx="4.5" ry="2.9"/><ellipse cx="249.0" cy="182.7" rx="5.6" ry="2.9"/><ellipse cx="269.0" cy="176.5" rx="5.3" ry="2.9"/><ellipse cx="289.0" cy="165.3" rx="3.9" ry="2.9"/><ellipse cx="222.0" cy="195.2" rx="4.5" ry="2.9"/><ellipse cx="249.0" cy="193.3" rx="5.6" ry="2.9"/><ellipse cx="269.0" cy="187.1" rx="5.3" ry="2.9"/><ellipse cx="289.0" cy="176.0" rx="3.9" ry="2.9"/><ellipse cx="222.0" cy="205.9" rx="4.5" ry="2.9"/><ellipse cx="249.0" cy="203.8" rx="5.6" ry="2.9"/><ellipse cx="269.0" cy="197.6" rx="5.3" ry="2.9"/><ellipse cx="289.0" cy="186.7" rx="3.9" ry="2.9"/><ellipse cx="222.0" cy="216.5" rx="4.5" ry="2.9"/><ellipse cx="249.0" cy="214.4" rx="5.6" ry="2.9"/><ellipse cx="269.0" cy="208.2" rx="5.3" ry="2.9"/><ellipse cx="289.0" cy="197.4" rx="3.9" ry="2.9"/><ellipse cx="222.0" cy="227.2" rx="4.5" ry="2.9"/><ellipse cx="249.0" cy="224.9" rx="5.6" ry="2.9"/><ellipse cx="269.0" cy="218.8" rx="5.3" ry="2.9"/><ellipse cx="289.0" cy="208.1" rx="3.9" ry="2.9"/><ellipse cx="222.0" cy="238.2" rx="4.5" ry="2.9"/><ellipse cx="249.0" cy="235.9" rx="5.6" ry="2.9"/><ellipse cx="269.0" cy="229.8" rx="5.3" ry="2.9"/><ellipse cx="289.0" cy="219.1" rx="3.9" ry="2.9"/><ellipse cx="222.0" cy="249.2" rx="4.5" ry="2.9"/><ellipse cx="249.0" cy="246.9" rx="5.6" ry="2.9"/><ellipse cx="269.0" cy="240.8" rx="5.3" ry="2.9"/><ellipse cx="289.0" cy="230.1" rx="3.9" ry="2.9"/><ellipse cx="222.0" cy="260.2" rx="4.5" ry="2.9"/><ellipse cx="249.0" cy="257.9" rx="5.6" ry="2.9"/><ellipse cx="269.0" cy="251.8" rx="5.3" ry="2.9"/><ellipse cx="289.0" cy="241.1" rx="3.9" ry="2.9"/></g>
<ellipse cx="252.6" cy="139.3" rx="49.0" ry="23.7" fill="#48b20c"/>
<clipPath id="fG"><ellipse cx="252.6" cy="139.3" rx="49.0" ry="23.7"/></clipPath>
<g clip-path="url(#fG)"><path d="M272.3 145.4L392.3 145.4L389.3 158.3ZM272.3 145.4L380.4 170.5L366.1 181.5ZM272.3 145.4L347.1 190.7L324.4 197.7ZM272.3 145.4L299.0 201.9L272.3 203.4ZM272.3 145.4L245.6 201.9L220.2 197.7ZM272.3 145.4L197.5 190.7L178.5 181.5ZM272.3 145.4L164.2 170.5L155.3 158.3ZM272.3 145.4L152.3 145.4L155.3 132.4ZM272.3 145.4L164.2 120.2L178.5 109.2ZM272.3 145.4L197.5 100.0L220.2 93.1ZM272.3 145.4L245.6 88.8L272.3 87.3ZM272.3 145.4L299.0 88.8L324.4 93.1ZM272.3 145.4L347.1 100.0L366.1 109.2ZM272.3 145.4L380.4 120.2L389.3 132.4Z" fill="#80e21c" fill-opacity="0.45"/><path d="M272.3 145.4L389.3 158.3L380.4 170.5ZM272.3 145.4L366.1 181.5L347.1 190.7ZM272.3 145.4L324.4 197.7L299.0 201.9ZM272.3 145.4L272.3 203.4L245.6 201.9ZM272.3 145.4L220.2 197.7L197.5 190.7ZM272.3 145.4L178.5 181.5L164.2 170.5ZM272.3 145.4L155.3 158.3L152.3 145.4ZM272.3 145.4L155.3 132.4L164.2 120.2ZM272.3 145.4L178.5 109.2L197.5 100.0ZM272.3 145.4L220.2 93.1L245.6 88.8ZM272.3 145.4L272.3 87.3L299.0 88.8ZM272.3 145.4L324.4 93.1L347.1 100.0ZM272.3 145.4L366.1 109.2L380.4 120.2ZM272.3 145.4L389.3 132.4L392.3 145.4Z" fill="#226806" fill-opacity="0.25"/></g>
<ellipse cx="252.6" cy="140.6" rx="47.8" ry="22.9" fill="none" stroke="#226806" stroke-width="4.2" stroke-opacity="0.80"/>
<ellipse cx="252.6" cy="139.3" rx="48.7" ry="23.4" fill="none" stroke="#80e21c" stroke-width="1.1" stroke-opacity="0.80"/>
<ellipse cx="256.5" cy="141.8" rx="40.4" ry="19.3" fill="none" stroke="#226806" stroke-width="4.2" stroke-opacity="0.80"/>
<ellipse cx="256.5" cy="140.5" rx="41.3" ry="19.8" fill="none" stroke="#80e21c" stroke-width="1.1" stroke-opacity="0.80"/>
<ellipse cx="260.5" cy="143.0" rx="33.0" ry="15.7" fill="none" stroke="#226806" stroke-width="4.2" stroke-opacity="0.80"/>
<ellipse cx="260.5" cy="141.7" rx="33.9" ry="16.2" fill="none" stroke="#80e21c" stroke-width="1.1" stroke-opacity="0.80"/>
<ellipse cx="264.4" cy="144.2" rx="25.5" ry="12.1" fill="none" stroke="#226806" stroke-width="4.2" stroke-opacity="0.80"/>
<ellipse cx="264.4" cy="142.9" rx="26.4" ry="12.6" fill="none" stroke="#80e21c" stroke-width="1.1" stroke-opacity="0.80"/>
<ellipse cx="268.4" cy="145.4" rx="18.1" ry="8.5" fill="none" stroke="#226806" stroke-width="4.2" stroke-opacity="0.80"/>
<ellipse cx="268.4" cy="144.1" rx="19.0" ry="9.0" fill="none" stroke="#80e21c" stroke-width="1.1" stroke-opacity="0.80"/>
<ellipse cx="272.3" cy="146.7" rx="10.7" ry="4.9" fill="none" stroke="#226806" stroke-width="4.2" stroke-opacity="0.80"/>
<ellipse cx="272.3" cy="145.4" rx="11.6" ry="5.4" fill="none" stroke="#80e21c" stroke-width="1.1" stroke-opacity="0.80"/>
<ellipse cx="272.3" cy="145.4" rx="9.5" ry="4.6" fill="#226806" fill-opacity=".55"/>
<rect x="203.6" y="109.6" width="98.0" height="148.0" fill="url(#gG)"/>
<path d="M295.6 199.5C296.6 198.8 297 201 296.6 203.5C295.8 202.5 295.4 200.5 295.6 199.5Z" fill="#fff"/>
</g>
<clipPath id="cB"><path d="M319.6 114.0L319.6 112.0L324.0 102.0L326.4 99.0L329.0 101.0L335.0 95.0L344.0 90.0L342.0 93.0L354.0 90.0L368.0 87.0L366.0 89.0L380.0 88.4L394.0 89.6L393.0 91.6L404.0 94.4L413.0 98.4L410.0 99.0L419.0 106.0L421.0 112.0L419.4 118.0L420.4 122.5L419.2 124.5L420.4 133.0L419.2 135.0L420.4 144.0L419.2 146.0L420.4 155.0L419.2 157.0L420.4 165.5L419.2 167.5L420.4 176.0L419.2 178.0L419.0 180.0L416.0 188.0L410.0 193.6L402.0 198.0L394.0 201.6L384.0 204.4L374.0 206.0L364.0 206.0L354.0 203.6L344.0 200.4L336.0 197.0L328.0 192.0L323.0 185.0L320.0 176.0Z"/></clipPath>
<linearGradient id="gB" x1="0" x2="1" y1="0" y2="0"><stop offset="0" stop-color="#14168c" stop-opacity="0.3"/><stop offset="0.15" stop-color="#14168c" stop-opacity="0"/><stop offset="0.5" stop-color="#6e74f6" stop-opacity="0.1"/><stop offset="0.85" stop-color="#14168c" stop-opacity="0"/><stop offset="1" stop-color="#14168c" stop-opacity="0.25"/></linearGradient>
<g clip-path="url(#cB)">
<rect x="318.0" y="81.0" width="103.0" height="159.5" fill="#3034d8"/>
<linearGradient id="kB" gradientUnits="userSpaceOnUse" x1="320.0" x2="419.0" y1="0" y2="0"><stop offset="0.101" stop-color="#14168c" stop-opacity="0.50"/><stop offset="0.202" stop-color="#6e74f6" stop-opacity="0.40"/><stop offset="0.364" stop-color="#14168c" stop-opacity="0.50"/><stop offset="0.444" stop-color="#6e74f6" stop-opacity="0.40"/><stop offset="0.626" stop-color="#14168c" stop-opacity="0.50"/><stop offset="0.707" stop-color="#6e74f6" stop-opacity="0.40"/><stop offset="0.879" stop-color="#14168c" stop-opacity="0.50"/><stop offset="0.939" stop-color="#6e74f6" stop-opacity="0.40"/></linearGradient>
<rect x="320.0" y="81.0" width="99.0" height="159.5" fill="url(#kB)"/>
<rect x="320.0" y="81.0" width="99.0" height="159.5" fill="#14168c" fill-opacity="0.20"/>
<path d="M320.0 56.4L320.1 57.8L320.4 59.4L321.0 61.0L321.7 62.7L322.6 64.4L323.8 66.2L325.1 67.9L326.6 69.4L328.3 69.6L330.2 70.4L332.3 72.1L334.5 74.0L336.9 76.0L339.4 78.1L342.0 80.0L344.8 81.7L347.6 83.3L350.6 84.5L353.6 84.2L356.7 84.7L359.8 86.3L363.0 88.2L366.3 89.6L369.5 90.8L372.7 91.7L376.0 92.3L379.2 91.4L382.3 91.1L385.4 91.8L388.4 92.9L391.4 93.7L394.2 94.0L397.0 94.2L399.6 94.1L402.1 93.4L404.5 91.8L406.7 90.6L408.8 90.2L410.7 90.1L412.4 90.0L413.9 89.7L415.2 89.0L416.4 88.1L417.3 86.5L418.0 84.2L418.6 82.3L418.9 80.9L419.0 79.5M320.0 66.9L320.1 68.3L320.4 69.9L321.0 71.5L321.7 73.2L322.6 74.9L323.8 76.7L325.1 78.4L326.6 79.9L328.3 80.1L330.2 80.9L332.3 82.6L334.5 84.5L336.9 86.5L339.4 88.6L342.0 90.5L344.8 92.2L347.6 93.8L350.6 95.0L353.6 94.7L356.7 95.2L359.8 96.8L363.0 98.7L366.3 100.1L369.5 101.3L372.7 102.2L376.0 102.8L379.2 101.9L382.3 101.6L385.4 102.3L388.4 103.4L391.4 104.2L394.2 104.5L397.0 104.7L399.6 104.6L402.1 103.9L404.5 102.3L406.7 101.1L408.8 100.7L410.7 100.6L412.4 100.5L413.9 100.2L415.2 99.5L416.4 98.6L417.3 97.0L418.0 94.7L418.6 92.8L418.9 91.4L419.0 90.0M320.0 77.4L320.1 78.8L320.4 80.4L321.0 82.0L321.7 83.7L322.6 85.4L323.8 87.2L325.1 88.9L326.6 90.4L328.3 90.6L330.2 91.4L332.3 93.1L334.5 95.0L336.9 97.0L339.4 99.1L342.0 101.0L344.8 102.7L347.6 104.3L350.6 105.5L353.6 105.2L356.7 105.7L359.8 107.3L363.0 109.2L366.3 110.6L369.5 111.8L372.7 112.7L376.0 113.3L379.2 112.4L382.3 112.1L385.4 112.8L388.4 113.9L391.4 114.7L394.2 115.0L397.0 115.2L399.6 115.1L402.1 114.4L404.5 112.8L406.7 111.6L408.8 111.2L410.7 111.1L412.4 111.0L413.9 110.7L415.2 110.0L416.4 109.1L417.3 107.5L418.0 105.2L418.6 103.3L418.9 101.9L419.0 100.5M320.0 87.9L320.1 89.3L320.4 90.9L321.0 92.5L321.7 94.2L322.6 95.9L323.8 97.7L325.1 99.4L326.6 100.9L328.3 101.1L330.2 101.9L332.3 103.6L334.5 105.5L336.9 107.5L339.4 109.6L342.0 111.5L344.8 113.2L347.6 114.8L350.6 116.0L353.6 115.7L356.7 116.2L359.8 117.8L363.0 119.7L366.3 121.1L369.5 122.3L372.7 123.2L376.0 123.8L379.2 122.9L382.3 122.6L385.4 123.3L388.4 124.4L391.4 125.2L394.2 125.5L397.0 125.7L399.6 125.6L402.1 124.9L404.5 123.3L406.7 122.1L408.8 121.7L410.7 121.6L412.4 121.5L413.9 121.2L415.2 120.5L416.4 119.6L417.3 118.0L418.0 115.7L418.6 113.8L418.9 112.4L419.0 111.0M320.0 98.4L320.1 99.8L320.4 101.4L321.0 103.0L321.7 104.7L322.6 106.5L323.8 108.2L325.1 110.0L326.6 111.5L328.3 111.7L330.2 112.5L332.3 114.2L334.5 116.1L336.9 118.2L339.4 120.3L342.0 122.2L344.8 123.9L347.6 125.5L350.6 126.7L353.6 126.4L356.7 126.9L359.8 128.5L363.0 130.4L366.3 131.9L369.5 133.0L372.7 133.9L376.0 134.5L379.2 133.6L382.3 133.3L385.4 134.0L388.4 135.1L391.4 135.9L394.2 136.2L397.0 136.3L399.6 136.2L402.1 135.5L404.5 133.9L406.7 132.7L408.8 132.3L410.7 132.2L412.4 132.1L413.9 131.7L415.2 131.1L416.4 130.2L417.3 128.6L418.0 126.3L418.6 124.4L418.9 122.9L419.0 121.5M320.0 108.9L320.1 110.4L320.4 111.9L321.0 113.6L321.7 115.3L322.6 117.1L323.8 118.8L325.1 120.6L326.6 122.1L328.3 122.4L330.2 123.1L332.3 124.9L334.5 126.8L336.9 128.8L339.4 131.0L342.0 132.9L344.8 134.6L347.6 136.1L350.6 137.4L353.6 137.1L356.7 137.6L359.8 139.2L363.0 141.1L366.3 142.6L369.5 143.7L372.7 144.6L376.0 145.2L379.2 144.3L382.3 144.0L385.4 144.7L388.4 145.8L391.4 146.6L394.2 146.9L397.0 147.0L399.6 146.9L402.1 146.2L404.5 144.6L406.7 143.4L408.8 142.9L410.7 142.8L412.4 142.7L413.9 142.3L415.2 141.7L416.4 140.7L417.3 139.1L418.0 136.8L418.6 134.9L418.9 133.4L419.0 132.0M320.0 119.4L320.1 120.9L320.4 122.5L321.0 124.1L321.7 125.9L322.6 127.6L323.8 129.4L325.1 131.2L326.6 132.7L328.3 133.0L330.2 133.7L332.3 135.5L334.5 137.4L336.9 139.5L339.4 141.6L342.0 143.5L344.8 145.3L347.6 146.8L350.6 148.1L353.6 147.8L356.7 148.3L359.8 149.9L363.0 151.8L366.3 153.3L369.5 154.4L372.7 155.4L376.0 155.9L379.2 155.0L382.3 154.7L385.4 155.4L388.4 156.5L391.4 157.2L394.2 157.6L397.0 157.7L399.6 157.6L402.1 156.8L404.5 155.2L406.7 154.0L408.8 153.6L410.7 153.4L412.4 153.3L413.9 152.9L415.2 152.3L416.4 151.3L417.3 149.7L418.0 147.4L418.6 145.4L418.9 143.9L419.0 142.5M320.0 129.9L320.1 131.4L320.4 133.0L321.0 134.7L321.7 136.4L322.6 138.2L323.8 140.0L325.1 141.8L326.6 143.3L328.3 143.6L330.2 144.4L332.3 146.1L334.5 148.1L336.9 150.2L339.4 152.3L342.0 154.2L344.8 156.0L347.6 157.5L350.6 158.8L353.6 158.5L356.7 159.0L359.8 160.6L363.0 162.5L366.3 164.0L369.5 165.1L372.7 166.1L376.0 166.6L379.2 165.7L382.3 165.4L385.4 166.1L388.4 167.2L391.4 167.9L394.2 168.3L397.0 168.4L399.6 168.3L402.1 167.5L404.5 165.9L406.7 164.6L408.8 164.2L410.7 164.1L412.4 163.9L413.9 163.5L415.2 162.9L416.4 161.9L417.3 160.2L418.0 157.9L418.6 156.0L418.9 154.4L419.0 153.0M320.0 140.4L320.1 141.9L320.4 143.5L321.0 145.2L321.7 147.0L322.6 148.8L323.8 150.6L325.1 152.4L326.6 153.9L328.3 154.2L330.2 155.0L332.3 156.8L334.5 158.7L336.9 160.8L339.4 163.0L342.0 164.9L344.8 166.6L347.6 168.2L350.6 169.5L353.6 169.2L356.7 169.7L359.8 171.3L363.0 173.2L366.3 174.7L369.5 175.9L372.7 176.8L376.0 177.3L379.2 176.4L382.3 176.1L385.4 176.8L388.4 177.9L391.4 178.6L394.2 178.9L397.0 179.0L399.6 178.9L402.1 178.2L404.5 176.5L406.7 175.3L408.8 174.8L410.7 174.7L412.4 174.5L413.9 174.1L415.2 173.4L416.4 172.5L417.3 170.8L418.0 168.4L418.6 166.5L418.9 164.9L419.0 163.5M320.0 150.9L320.1 152.4L320.4 154.0L321.0 155.8L321.7 157.5L322.6 159.3L323.8 161.2L325.1 162.9L326.6 164.5L328.3 164.8L330.2 165.6L332.3 167.4L334.5 169.4L336.9 171.5L339.4 173.6L342.0 175.6L344.8 177.3L347.6 178.9L350.6 180.2L353.6 179.9L356.7 180.4L359.8 182.0L363.0 183.9L366.3 185.4L369.5 186.6L372.7 187.5L376.0 188.0L379.2 187.2L382.3 186.8L385.4 187.5L388.4 188.6L391.4 189.3L394.2 189.6L397.0 189.7L399.6 189.6L402.1 188.8L404.5 187.2L406.7 185.9L408.8 185.5L410.7 185.3L412.4 185.1L413.9 184.7L415.2 184.0L416.4 183.0L417.3 181.3L418.0 179.0L418.6 177.0L418.9 175.4L419.0 174.0M320.0 161.4L320.1 162.9L320.4 164.6L321.0 166.3L321.7 168.1L322.6 169.9L323.8 171.7L325.1 173.5L326.6 175.1L328.3 175.5L330.2 176.3L332.3 178.1L334.5 180.0L336.9 182.2L339.4 184.3L342.0 186.2L344.8 188.0L347.6 189.6L350.6 190.9L353.6 190.6L356.7 191.1L359.8 192.7L363.0 194.7L366.3 196.1L369.5 197.3L372.7 198.2L376.0 198.8L379.2 197.9L382.3 197.5L385.4 198.2L388.4 199.3L391.4 200.0L394.2 200.3L397.0 200.4L399.6 200.3L402.1 199.5L404.5 197.8L406.7 196.6L408.8 196.1L410.7 195.9L412.4 195.7L413.9 195.3L415.2 194.6L416.4 193.6L417.3 191.9L418.0 189.5L418.6 187.5L418.9 185.9L419.0 184.5M320.0 171.9L320.1 173.4L320.4 175.1L321.0 176.8L321.7 178.6L322.6 180.4L323.8 182.2L325.1 184.0L326.6 185.6L328.3 186.0L330.2 186.8L332.3 188.6L334.5 190.5L336.9 192.7L339.4 194.8L342.0 196.7L344.8 198.5L347.6 200.1L350.6 201.4L353.6 201.1L356.7 201.6L359.8 203.2L363.0 205.2L366.3 206.6L369.5 207.8L372.7 208.7L376.0 209.3L379.2 208.4L382.3 208.0L385.4 208.7L388.4 209.8L391.4 210.5L394.2 210.8L397.0 210.9L399.6 210.8L402.1 210.0L404.5 208.3L406.7 207.1L408.8 206.6L410.7 206.4L412.4 206.2L413.9 205.8L415.2 205.1L416.4 204.1L417.3 202.4L418.0 200.0L418.6 198.0L418.9 196.4L419.0 195.0M320.0 182.4L320.1 183.9L320.4 185.6L321.0 187.3L321.7 189.1L322.6 190.9L323.8 192.7L325.1 194.5L326.6 196.1L328.3 196.5L330.2 197.3L332.3 199.1L334.5 201.0L336.9 203.2L339.4 205.3L342.0 207.2L344.8 209.0L347.6 210.6L350.6 211.9L353.6 211.6L356.7 212.1L359.8 213.7L363.0 215.7L366.3 217.1L369.5 218.3L372.7 219.2L376.0 219.8L379.2 218.9L382.3 218.5L385.4 219.2L388.4 220.3L391.4 221.0L394.2 221.3L397.0 221.4L399.6 221.3L402.1 220.5L404.5 218.8L406.7 217.6L408.8 217.1L410.7 216.9L412.4 216.7L413.9 216.3L415.2 215.6L416.4 214.6L417.3 212.9L418.0 210.5L418.6 208.5L418.9 206.9L419.0 205.5M320.0 192.9L320.1 194.4L320.4 196.1L321.0 197.8L321.7 199.6L322.6 201.4L323.8 203.2L325.1 205.0L326.6 206.6L328.3 207.0L330.2 207.8L332.3 209.6L334.5 211.5L336.9 213.7L339.4 215.8L342.0 217.7L344.8 219.5L347.6 221.1L350.6 222.4L353.6 222.1L356.7 222.6L359.8 224.2L363.0 226.2L366.3 227.6L369.5 228.8L372.7 229.7L376.0 230.3L379.2 229.4L382.3 229.0L385.4 229.7L388.4 230.8L391.4 231.5L394.2 231.8L397.0 231.9L399.6 231.8L402.1 231.0L404.5 229.3L406.7 228.1L408.8 227.6L410.7 227.4L412.4 227.2L413.9 226.8L415.2 226.1L416.4 225.1L417.3 223.4L418.0 221.0L418.6 219.0L418.9 217.4L419.0 216.0" fill="none" stroke="#14168c" stroke-width="3.8" stroke-opacity="0.12"/>
<path d="M320.0 58.4L320.1 59.8L320.4 61.4L321.0 63.0L321.7 64.7L322.6 66.4L323.8 68.2L325.1 69.9L326.6 71.4L328.3 71.6L330.2 72.4L332.3 74.1L334.5 76.0L336.9 78.0L339.4 80.1L342.0 82.0L344.8 83.7L347.6 85.3L350.6 86.5L353.6 86.2L356.7 86.7L359.8 88.2L363.0 90.2L366.3 91.6L369.5 92.8L372.7 93.7L376.0 94.3L379.2 93.4L382.3 93.1L385.4 93.8L388.4 94.9L391.4 95.7L394.2 96.0L397.0 96.2L399.6 96.1L402.1 95.4L404.5 93.7L406.7 92.6L408.8 92.2L410.7 92.1L412.4 92.0L413.9 91.6L415.2 91.0L416.4 90.1L417.3 88.5L418.0 86.2L418.6 84.3L418.9 82.8L419.0 81.5M320.0 68.9L320.1 70.3L320.4 71.9L321.0 73.5L321.7 75.2L322.6 76.9L323.8 78.7L325.1 80.4L326.6 81.9L328.3 82.1L330.2 82.9L332.3 84.6L334.5 86.5L336.9 88.5L339.4 90.6L342.0 92.5L344.8 94.2L347.6 95.8L350.6 97.0L353.6 96.7L356.7 97.2L359.8 98.7L363.0 100.7L366.3 102.1L369.5 103.3L372.7 104.2L376.0 104.8L379.2 103.9L382.3 103.6L385.4 104.3L388.4 105.4L391.4 106.2L394.2 106.5L397.0 106.7L399.6 106.6L402.1 105.9L404.5 104.2L406.7 103.1L408.8 102.7L410.7 102.6L412.4 102.5L413.9 102.1L415.2 101.5L416.4 100.6L417.3 99.0L418.0 96.7L418.6 94.8L418.9 93.3L419.0 92.0M320.0 79.4L320.1 80.8L320.4 82.4L321.0 84.0L321.7 85.7L322.6 87.4L323.8 89.2L325.1 90.9L326.6 92.4L328.3 92.6L330.2 93.4L332.3 95.1L334.5 97.0L336.9 99.0L339.4 101.1L342.0 103.0L344.8 104.7L347.6 106.3L350.6 107.5L353.6 107.2L356.7 107.7L359.8 109.2L363.0 111.2L366.3 112.6L369.5 113.8L372.7 114.7L376.0 115.3L379.2 114.4L382.3 114.1L385.4 114.8L388.4 115.9L391.4 116.7L394.2 117.0L397.0 117.2L399.6 117.1L402.1 116.4L404.5 114.7L406.7 113.6L408.8 113.2L410.7 113.1L412.4 113.0L413.9 112.6L415.2 112.0L416.4 111.1L417.3 109.5L418.0 107.2L418.6 105.3L418.9 103.8L419.0 102.5M320.0 89.9L320.1 91.3L320.4 92.9L321.0 94.5L321.7 96.2L322.6 97.9L323.8 99.7L325.1 101.4L326.6 102.9L328.3 103.1L330.2 103.9L332.3 105.6L334.5 107.5L336.9 109.5L339.4 111.6L342.0 113.5L344.8 115.2L347.6 116.8L350.6 118.0L353.6 117.7L356.7 118.2L359.8 119.7L363.0 121.7L366.3 123.1L369.5 124.3L372.7 125.2L376.0 125.8L379.2 124.9L382.3 124.6L385.4 125.3L388.4 126.4L391.4 127.2L394.2 127.5L397.0 127.7L399.6 127.6L402.1 126.9L404.5 125.2L406.7 124.1L408.8 123.7L410.7 123.6L412.4 123.5L413.9 123.1L415.2 122.5L416.4 121.6L417.3 120.0L418.0 117.7L418.6 115.8L418.9 114.3L419.0 113.0M320.0 100.4L320.1 101.8L320.4 103.4L321.0 105.0L321.7 106.7L322.6 108.5L323.8 110.2L325.1 112.0L326.6 113.5L328.3 113.7L330.2 114.5L332.3 116.2L334.5 118.1L336.9 120.2L339.4 122.3L342.0 124.2L344.8 125.9L347.6 127.4L350.6 128.7L353.6 128.4L356.7 128.9L359.8 130.5L363.0 132.4L366.3 133.9L369.5 135.0L372.7 135.9L376.0 136.5L379.2 135.6L382.3 135.3L385.4 136.0L388.4 137.1L391.4 137.9L394.2 138.2L397.0 138.3L399.6 138.2L402.1 137.5L404.5 135.9L406.7 134.7L408.8 134.3L410.7 134.2L412.4 134.1L413.9 133.7L415.2 133.1L416.4 132.2L417.3 130.6L418.0 128.3L418.6 126.4L418.9 124.9L419.0 123.5M320.0 110.9L320.1 112.3L320.4 113.9L321.0 115.6L321.7 117.3L322.6 119.1L323.8 120.8L325.1 122.6L326.6 124.1L328.3 124.4L330.2 125.1L332.3 126.9L334.5 128.8L336.9 130.8L339.4 133.0L342.0 134.9L344.8 136.6L347.6 138.1L350.6 139.4L353.6 139.1L356.7 139.6L359.8 141.2L363.0 143.1L366.3 144.6L369.5 145.7L372.7 146.6L376.0 147.2L379.2 146.3L382.3 146.0L385.4 146.7L388.4 147.8L391.4 148.6L394.2 148.9L397.0 149.0L399.6 148.9L402.1 148.2L404.5 146.6L406.7 145.4L408.8 144.9L410.7 144.8L412.4 144.7L413.9 144.3L415.2 143.7L416.4 142.7L417.3 141.1L418.0 138.8L418.6 136.9L418.9 135.4L419.0 134.0M320.0 121.4L320.1 122.9L320.4 124.5L321.0 126.1L321.7 127.9L322.6 129.6L323.8 131.4L325.1 133.2L326.6 134.7L328.3 135.0L330.2 135.7L332.3 137.5L334.5 139.4L336.9 141.5L339.4 143.6L342.0 145.5L344.8 147.3L347.6 148.8L350.6 150.1L353.6 149.8L356.7 150.3L359.8 151.9L363.0 153.8L366.3 155.3L369.5 156.4L372.7 157.4L376.0 157.9L379.2 157.0L382.3 156.7L385.4 157.4L388.4 158.5L391.4 159.2L394.2 159.6L397.0 159.7L399.6 159.6L402.1 158.8L404.5 157.2L406.7 156.0L408.8 155.6L410.7 155.4L412.4 155.3L413.9 154.9L415.2 154.3L416.4 153.3L417.3 151.7L418.0 149.4L418.6 147.4L418.9 145.9L419.0 144.5M320.0 131.9L320.1 133.4L320.4 135.0L321.0 136.7L321.7 138.4L322.6 140.2L323.8 142.0L325.1 143.8L326.6 145.3L328.3 145.6L330.2 146.4L332.3 148.1L334.5 150.1L336.9 152.2L339.4 154.3L342.0 156.2L344.8 157.9L347.6 159.5L350.6 160.8L353.6 160.5L356.7 161.0L359.8 162.6L363.0 164.5L366.3 166.0L369.5 167.1L372.7 168.1L376.0 168.6L379.2 167.7L382.3 167.4L385.4 168.1L388.4 169.2L391.4 169.9L394.2 170.3L397.0 170.4L399.6 170.2L402.1 169.5L404.5 167.9L406.7 166.6L408.8 166.2L410.7 166.1L412.4 165.9L413.9 165.5L415.2 164.9L416.4 163.9L417.3 162.2L418.0 159.9L418.6 157.9L418.9 156.4L419.0 155.0M320.0 142.4L320.1 143.9L320.4 145.5L321.0 147.2L321.7 149.0L322.6 150.8L323.8 152.6L325.1 154.3L326.6 155.9L328.3 156.2L330.2 157.0L332.3 158.8L334.5 160.7L336.9 162.8L339.4 165.0L342.0 166.9L344.8 168.6L347.6 170.2L350.6 171.5L353.6 171.2L356.7 171.7L359.8 173.3L363.0 175.2L366.3 176.7L369.5 177.9L372.7 178.8L376.0 179.3L379.2 178.4L382.3 178.1L385.4 178.8L388.4 179.9L391.4 180.6L394.2 180.9L397.0 181.0L399.6 180.9L402.1 180.2L404.5 178.5L406.7 177.3L408.8 176.8L410.7 176.7L412.4 176.5L413.9 176.1L415.2 175.4L416.4 174.5L417.3 172.8L418.0 170.4L418.6 168.5L418.9 166.9L419.0 165.5M320.0 152.9L320.1 154.4L320.4 156.0L321.0 157.7L321.7 159.5L322.6 161.3L323.8 163.2L325.1 164.9L326.6 166.5L328.3 166.8L330.2 167.6L332.3 169.4L334.5 171.4L336.9 173.5L339.4 175.6L342.0 177.6L344.8 179.3L347.6 180.9L350.6 182.2L353.6 181.9L356.7 182.4L359.8 184.0L363.0 185.9L366.3 187.4L369.5 188.6L372.7 189.5L376.0 190.0L379.2 189.2L382.3 188.8L385.4 189.5L388.4 190.6L391.4 191.3L394.2 191.6L397.0 191.7L399.6 191.6L402.1 190.8L404.5 189.2L406.7 187.9L408.8 187.5L410.7 187.3L412.4 187.1L413.9 186.7L415.2 186.0L416.4 185.0L417.3 183.3L418.0 181.0L418.6 179.0L418.9 177.4L419.0 176.0M320.0 163.4L320.1 164.9L320.4 166.6L321.0 168.3L321.7 170.1L322.6 171.9L323.8 173.7L325.1 175.5L326.6 177.1L328.3 177.4L330.2 178.3L332.3 180.1L334.5 182.0L336.9 184.1L339.4 186.3L342.0 188.2L344.8 190.0L347.6 191.6L350.6 192.9L353.6 192.6L356.7 193.1L359.8 194.7L363.0 196.7L366.3 198.1L369.5 199.3L372.7 200.2L376.0 200.7L379.2 199.9L382.3 199.5L385.4 200.2L388.4 201.3L391.4 202.0L394.2 202.3L397.0 202.4L399.6 202.3L402.1 201.5L404.5 199.8L406.7 198.6L408.8 198.1L410.7 197.9L412.4 197.7L413.9 197.3L415.2 196.6L416.4 195.6L417.3 193.9L418.0 191.5L418.6 189.5L418.9 187.9L419.0 186.5M320.0 173.9L320.1 175.4L320.4 177.1L321.0 178.8L321.7 180.6L322.6 182.4L323.8 184.2L325.1 186.0L326.6 187.6L328.3 187.9L330.2 188.8L332.3 190.6L334.5 192.5L336.9 194.6L339.4 196.8L342.0 198.7L344.8 200.5L347.6 202.1L350.6 203.4L353.6 203.1L356.7 203.6L359.8 205.2L363.0 207.2L366.3 208.6L369.5 209.8L372.7 210.7L376.0 211.2L379.2 210.4L382.3 210.0L385.4 210.7L388.4 211.8L391.4 212.5L394.2 212.8L397.0 212.9L399.6 212.8L402.1 212.0L404.5 210.3L406.7 209.1L408.8 208.6L410.7 208.4L412.4 208.2L413.9 207.8L415.2 207.1L416.4 206.1L417.3 204.4L418.0 202.0L418.6 200.0L418.9 198.4L419.0 197.0M320.0 184.4L320.1 185.9L320.4 187.6L321.0 189.3L321.7 191.1L322.6 192.9L323.8 194.7L325.1 196.5L326.6 198.1L328.3 198.4L330.2 199.3L332.3 201.1L334.5 203.0L336.9 205.1L339.4 207.3L342.0 209.2L344.8 211.0L347.6 212.6L350.6 213.9L353.6 213.6L356.7 214.1L359.8 215.7L363.0 217.7L366.3 219.1L369.5 220.3L372.7 221.2L376.0 221.7L379.2 220.9L382.3 220.5L385.4 221.2L388.4 222.3L391.4 223.0L394.2 223.3L397.0 223.4L399.6 223.3L402.1 222.5L404.5 220.8L406.7 219.6L408.8 219.1L410.7 218.9L412.4 218.7L413.9 218.3L415.2 217.6L416.4 216.6L417.3 214.9L418.0 212.5L418.6 210.5L418.9 208.9L419.0 207.5M320.0 194.9L320.1 196.4L320.4 198.1L321.0 199.8L321.7 201.6L322.6 203.4L323.8 205.2L325.1 207.0L326.6 208.6L328.3 208.9L330.2 209.8L332.3 211.6L334.5 213.5L336.9 215.6L339.4 217.8L342.0 219.7L344.8 221.5L347.6 223.1L350.6 224.4L353.6 224.1L356.7 224.6L359.8 226.2L363.0 228.2L366.3 229.6L369.5 230.8L372.7 231.7L376.0 232.2L379.2 231.4L382.3 231.0L385.4 231.7L388.4 232.8L391.4 233.5L394.2 233.8L397.0 233.9L399.6 233.8L402.1 233.0L404.5 231.3L406.7 230.1L408.8 229.6L410.7 229.4L412.4 229.2L413.9 228.8L415.2 228.1L416.4 227.1L417.3 225.4L418.0 223.0L418.6 221.0L418.9 219.4L419.0 218.0" fill="none" stroke="#14168c" stroke-width="1.5" stroke-opacity="0.60"/>
<path d="M320.0 59.8L320.1 61.3L320.4 62.8L321.0 64.5L321.7 66.2L322.6 67.9L323.8 69.6L325.1 71.3L326.6 72.8L328.3 73.1L330.2 73.8L332.3 75.5L334.5 77.4L336.9 79.5L339.4 81.6L342.0 83.5L344.8 85.2L347.6 86.7L350.6 87.9L353.6 87.7L356.7 88.1L359.8 89.7L363.0 91.6L366.3 93.1L369.5 94.3L372.7 95.2L376.0 95.7L379.2 94.9L382.3 94.5L385.4 95.3L388.4 96.4L391.4 97.1L394.2 97.5L397.0 97.6L399.6 97.5L402.1 96.8L404.5 95.2L406.7 94.0L408.8 93.7L410.7 93.5L412.4 93.4L413.9 93.1L415.2 92.5L416.4 91.6L417.3 90.0L418.0 87.7L418.6 85.8L418.9 84.3L419.0 82.9M320.0 70.3L320.1 71.8L320.4 73.3L321.0 75.0L321.7 76.7L322.6 78.4L323.8 80.1L325.1 81.8L326.6 83.3L328.3 83.6L330.2 84.3L332.3 86.0L334.5 87.9L336.9 90.0L339.4 92.1L342.0 94.0L344.8 95.7L347.6 97.2L350.6 98.4L353.6 98.2L356.7 98.6L359.8 100.2L363.0 102.1L366.3 103.6L369.5 104.8L372.7 105.7L376.0 106.2L379.2 105.4L382.3 105.0L385.4 105.8L388.4 106.9L391.4 107.6L394.2 108.0L397.0 108.1L399.6 108.0L402.1 107.3L404.5 105.7L406.7 104.5L408.8 104.2L410.7 104.0L412.4 103.9L413.9 103.6L415.2 103.0L416.4 102.1L417.3 100.5L418.0 98.2L418.6 96.3L418.9 94.8L419.0 93.4M320.0 80.8L320.1 82.3L320.4 83.8L321.0 85.5L321.7 87.2L322.6 88.9L323.8 90.6L325.1 92.3L326.6 93.8L328.3 94.1L330.2 94.8L332.3 96.5L334.5 98.4L336.9 100.5L339.4 102.6L342.0 104.5L344.8 106.2L347.6 107.7L350.6 108.9L353.6 108.7L356.7 109.1L359.8 110.7L363.0 112.6L366.3 114.1L369.5 115.3L372.7 116.2L376.0 116.7L379.2 115.9L382.3 115.5L385.4 116.3L388.4 117.4L391.4 118.1L394.2 118.5L397.0 118.6L399.6 118.5L402.1 117.8L404.5 116.2L406.7 115.0L408.8 114.7L410.7 114.5L412.4 114.4L413.9 114.1L415.2 113.5L416.4 112.6L417.3 111.0L418.0 108.7L418.6 106.8L418.9 105.3L419.0 103.9M320.0 91.3L320.1 92.8L320.4 94.3L321.0 96.0L321.7 97.7L322.6 99.4L323.8 101.1L325.1 102.8L326.6 104.3L328.3 104.6L330.2 105.3L332.3 107.0L334.5 108.9L336.9 111.0L339.4 113.1L342.0 115.0L344.8 116.7L347.6 118.2L350.6 119.4L353.6 119.2L356.7 119.6L359.8 121.2L363.0 123.1L366.3 124.6L369.5 125.8L372.7 126.7L376.0 127.2L379.2 126.4L382.3 126.0L385.4 126.8L388.4 127.9L391.4 128.6L394.2 129.0L397.0 129.1L399.6 129.0L402.1 128.3L404.5 126.7L406.7 125.5L408.8 125.2L410.7 125.0L412.4 124.9L413.9 124.6L415.2 124.0L416.4 123.1L417.3 121.5L418.0 119.2L418.6 117.3L418.9 115.8L419.0 114.4M320.0 101.8L320.1 103.3L320.4 104.9L321.0 106.5L321.7 108.2L322.6 110.0L323.8 111.7L325.1 113.4L326.6 114.9L328.3 115.2L330.2 116.0L332.3 117.7L334.5 119.6L336.9 121.7L339.4 123.8L342.0 125.6L344.8 127.4L347.6 128.9L350.6 130.1L353.6 129.9L356.7 130.3L359.8 131.9L363.0 133.9L366.3 135.3L369.5 136.5L372.7 137.4L376.0 137.9L379.2 137.1L382.3 136.7L385.4 137.5L388.4 138.6L391.4 139.3L394.2 139.7L397.0 139.8L399.6 139.7L402.1 139.0L404.5 137.4L406.7 136.2L408.8 135.8L410.7 135.7L412.4 135.5L413.9 135.2L415.2 134.6L416.4 133.6L417.3 132.0L418.0 129.7L418.6 127.8L418.9 126.3L419.0 124.9M320.0 112.3L320.1 113.8L320.4 115.4L321.0 117.0L321.7 118.8L322.6 120.5L323.8 122.3L325.1 124.0L326.6 125.6L328.3 125.8L330.2 126.6L332.3 128.3L334.5 130.2L336.9 132.3L339.4 134.4L342.0 136.3L344.8 138.0L347.6 139.6L350.6 140.8L353.6 140.6L356.7 141.0L359.8 142.6L363.0 144.6L366.3 146.0L369.5 147.2L372.7 148.1L376.0 148.7L379.2 147.8L382.3 147.4L385.4 148.2L388.4 149.3L391.4 150.0L394.2 150.4L397.0 150.5L399.6 150.4L402.1 149.6L404.5 148.0L406.7 146.8L408.8 146.4L410.7 146.3L412.4 146.2L413.9 145.8L415.2 145.2L416.4 144.2L417.3 142.6L418.0 140.3L418.6 138.4L418.9 136.8L419.0 135.4M320.0 122.8L320.1 124.3L320.4 125.9L321.0 127.6L321.7 129.3L322.6 131.1L323.8 132.9L325.1 134.6L326.6 136.2L328.3 136.4L330.2 137.2L332.3 139.0L334.5 140.9L336.9 143.0L339.4 145.1L342.0 147.0L344.8 148.7L347.6 150.3L350.6 151.5L353.6 151.3L356.7 151.8L359.8 153.3L363.0 155.3L366.3 156.8L369.5 157.9L372.7 158.8L376.0 159.4L379.2 158.5L382.3 158.1L385.4 158.9L388.4 160.0L391.4 160.7L394.2 161.0L397.0 161.2L399.6 161.0L402.1 160.3L404.5 158.7L406.7 157.5L408.8 157.0L410.7 156.9L412.4 156.8L413.9 156.4L415.2 155.7L416.4 154.8L417.3 153.1L418.0 150.8L418.6 148.9L418.9 147.4L419.0 145.9M320.0 133.3L320.1 134.8L320.4 136.4L321.0 138.1L321.7 139.9L322.6 141.7L323.8 143.5L325.1 145.2L326.6 146.8L328.3 147.1L330.2 147.8L332.3 149.6L334.5 151.5L336.9 153.6L339.4 155.8L342.0 157.7L344.8 159.4L347.6 161.0L350.6 162.2L353.6 162.0L356.7 162.5L359.8 164.1L363.0 166.0L366.3 167.5L369.5 168.6L372.7 169.5L376.0 170.1L379.2 169.2L382.3 168.9L385.4 169.6L388.4 170.7L391.4 171.4L394.2 171.7L397.0 171.8L399.6 171.7L402.1 171.0L404.5 169.3L406.7 168.1L408.8 167.7L410.7 167.5L412.4 167.4L413.9 167.0L415.2 166.3L416.4 165.4L417.3 163.7L418.0 161.4L418.6 159.4L418.9 157.9L419.0 156.4M320.0 143.8L320.1 145.4L320.4 147.0L321.0 148.7L321.7 150.4L322.6 152.2L323.8 154.0L325.1 155.8L326.6 157.4L328.3 157.7L330.2 158.5L332.3 160.2L334.5 162.2L336.9 164.3L339.4 166.4L342.0 168.4L344.8 170.1L347.6 171.7L350.6 172.9L353.6 172.7L356.7 173.2L359.8 174.8L363.0 176.7L366.3 178.2L369.5 179.3L372.7 180.3L376.0 180.8L379.2 179.9L382.3 179.6L385.4 180.3L388.4 181.4L391.4 182.1L394.2 182.4L397.0 182.5L399.6 182.4L402.1 181.6L404.5 180.0L406.7 178.7L408.8 178.3L410.7 178.1L412.4 178.0L413.9 177.6L415.2 176.9L416.4 175.9L417.3 174.3L418.0 171.9L418.6 169.9L418.9 168.4L419.0 166.9M320.0 154.3L320.1 155.9L320.4 157.5L321.0 159.2L321.7 161.0L322.6 162.8L323.8 164.6L325.1 166.4L326.6 168.0L328.3 168.3L330.2 169.1L332.3 170.9L334.5 172.8L336.9 175.0L339.4 177.1L342.0 179.0L344.8 180.8L347.6 182.4L350.6 183.6L353.6 183.4L356.7 183.9L359.8 185.5L363.0 187.4L366.3 188.9L369.5 190.0L372.7 191.0L376.0 191.5L379.2 190.6L382.3 190.3L385.4 191.0L388.4 192.0L391.4 192.8L394.2 193.1L397.0 193.2L399.6 193.1L402.1 192.3L404.5 190.6L406.7 189.4L408.8 188.9L410.7 188.8L412.4 188.6L413.9 188.2L415.2 187.5L416.4 186.5L417.3 184.8L418.0 182.4L418.6 180.5L418.9 178.9L419.0 177.4M320.0 164.8L320.1 166.4L320.4 168.0L321.0 169.8L321.7 171.5L322.6 173.4L323.8 175.2L325.1 177.0L326.6 178.6L328.3 178.9L330.2 179.7L332.3 181.5L334.5 183.5L336.9 185.6L339.4 187.8L342.0 189.7L344.8 191.5L347.6 193.1L350.6 194.3L353.6 194.1L356.7 194.6L359.8 196.2L363.0 198.1L366.3 199.6L369.5 200.8L372.7 201.7L376.0 202.2L379.2 201.3L382.3 201.0L385.4 201.7L388.4 202.7L391.4 203.5L394.2 203.8L397.0 203.9L399.6 203.7L402.1 203.0L404.5 201.3L406.7 200.0L408.8 199.6L410.7 199.4L412.4 199.2L413.9 198.8L415.2 198.1L416.4 197.1L417.3 195.4L418.0 193.0L418.6 191.0L418.9 189.4L419.0 187.9M320.0 175.3L320.1 176.9L320.4 178.5L321.0 180.3L321.7 182.0L322.6 183.9L323.8 185.7L325.1 187.5L326.6 189.1L328.3 189.4L330.2 190.2L332.3 192.0L334.5 194.0L336.9 196.1L339.4 198.3L342.0 200.2L344.8 202.0L347.6 203.6L350.6 204.8L353.6 204.6L356.7 205.1L359.8 206.7L363.0 208.6L366.3 210.1L369.5 211.3L372.7 212.2L376.0 212.7L379.2 211.8L382.3 211.5L385.4 212.2L388.4 213.2L391.4 214.0L394.2 214.3L397.0 214.4L399.6 214.2L402.1 213.5L404.5 211.8L406.7 210.5L408.8 210.1L410.7 209.9L412.4 209.7L413.9 209.3L415.2 208.6L416.4 207.6L417.3 205.9L418.0 203.5L418.6 201.5L418.9 199.9L419.0 198.4M320.0 185.8L320.1 187.4L320.4 189.0L321.0 190.8L321.7 192.5L322.6 194.4L323.8 196.2L325.1 198.0L326.6 199.6L328.3 199.9L330.2 200.7L332.3 202.5L334.5 204.5L336.9 206.6L339.4 208.8L342.0 210.7L344.8 212.5L347.6 214.1L350.6 215.3L353.6 215.1L356.7 215.6L359.8 217.2L363.0 219.1L366.3 220.6L369.5 221.8L372.7 222.7L376.0 223.2L379.2 222.3L382.3 222.0L385.4 222.7L388.4 223.7L391.4 224.5L394.2 224.8L397.0 224.9L399.6 224.7L402.1 224.0L404.5 222.3L406.7 221.0L408.8 220.6L410.7 220.4L412.4 220.2L413.9 219.8L415.2 219.1L416.4 218.1L417.3 216.4L418.0 214.0L418.6 212.0L418.9 210.4L419.0 208.9M320.0 196.3L320.1 197.9L320.4 199.5L321.0 201.3L321.7 203.0L322.6 204.9L323.8 206.7L325.1 208.5L326.6 210.1L328.3 210.4L330.2 211.2L332.3 213.0L334.5 215.0L336.9 217.1L339.4 219.3L342.0 221.2L344.8 223.0L347.6 224.6L350.6 225.8L353.6 225.6L356.7 226.1L359.8 227.7L363.0 229.6L366.3 231.1L369.5 232.3L372.7 233.2L376.0 233.7L379.2 232.8L382.3 232.5L385.4 233.2L388.4 234.2L391.4 235.0L394.2 235.3L397.0 235.4L399.6 235.2L402.1 234.5L404.5 232.8L406.7 231.5L408.8 231.1L410.7 230.9L412.4 230.7L413.9 230.3L415.2 229.6L416.4 228.6L417.3 226.9L418.0 224.5L418.6 222.5L418.9 220.9L419.0 219.4" fill="none" stroke="#6e74f6" stroke-width="1.5" stroke-opacity="0.50"/>
<g fill="#14168c" fill-opacity="0.35"><ellipse cx="330.0" cy="79.6" rx="3.8" ry="3.8"/><ellipse cx="356.0" cy="93.8" rx="5.6" ry="3.8"/><ellipse cx="382.0" cy="100.4" rx="5.6" ry="3.8"/><ellipse cx="407.0" cy="99.9" rx="4.1" ry="3.8"/><ellipse cx="330.0" cy="90.1" rx="3.8" ry="3.8"/><ellipse cx="356.0" cy="104.3" rx="5.6" ry="3.8"/><ellipse cx="382.0" cy="110.9" rx="5.6" ry="3.8"/><ellipse cx="407.0" cy="110.4" rx="4.1" ry="3.8"/><ellipse cx="330.0" cy="100.6" rx="3.8" ry="3.8"/><ellipse cx="356.0" cy="114.8" rx="5.6" ry="3.8"/><ellipse cx="382.0" cy="121.4" rx="5.6" ry="3.8"/><ellipse cx="407.0" cy="120.9" rx="4.1" ry="3.8"/><ellipse cx="330.0" cy="111.1" rx="3.8" ry="3.8"/><ellipse cx="356.0" cy="125.3" rx="5.6" ry="3.8"/><ellipse cx="382.0" cy="131.9" rx="5.6" ry="3.8"/><ellipse cx="407.0" cy="131.4" rx="4.1" ry="3.8"/><ellipse cx="330.0" cy="121.7" rx="3.8" ry="3.8"/><ellipse cx="356.0" cy="136.0" rx="5.6" ry="3.8"/><ellipse cx="382.0" cy="142.6" rx="5.6" ry="3.8"/><ellipse cx="407.0" cy="142.0" rx="4.1" ry="3.8"/><ellipse cx="330.0" cy="132.3" rx="3.8" ry="3.8"/><ellipse cx="356.0" cy="146.7" rx="5.6" ry="3.8"/><ellipse cx="382.0" cy="153.3" rx="5.6" ry="3.8"/><ellipse cx="407.0" cy="152.7" rx="4.1" ry="3.8"/><ellipse cx="330.0" cy="142.9" rx="3.8" ry="3.8"/><ellipse cx="356.0" cy="157.4" rx="5.6" ry="3.8"/><ellipse cx="382.0" cy="164.0" rx="5.6" ry="3.8"/><ellipse cx="407.0" cy="163.3" rx="4.1" ry="3.8"/><ellipse cx="330.0" cy="153.6" rx="3.8" ry="3.8"/><ellipse cx="356.0" cy="168.1" rx="5.6" ry="3.8"/><ellipse cx="382.0" cy="174.7" rx="5.6" ry="3.8"/><ellipse cx="407.0" cy="173.9" rx="4.1" ry="3.8"/><ellipse cx="330.0" cy="164.2" rx="3.8" ry="3.8"/><ellipse cx="356.0" cy="178.8" rx="5.6" ry="3.8"/><ellipse cx="382.0" cy="185.4" rx="5.6" ry="3.8"/><ellipse cx="407.0" cy="184.6" rx="4.1" ry="3.8"/><ellipse cx="330.0" cy="174.8" rx="3.8" ry="3.8"/><ellipse cx="356.0" cy="189.5" rx="5.6" ry="3.8"/><ellipse cx="382.0" cy="196.1" rx="5.6" ry="3.8"/><ellipse cx="407.0" cy="195.2" rx="4.1" ry="3.8"/><ellipse cx="330.0" cy="185.5" rx="3.8" ry="3.8"/><ellipse cx="356.0" cy="200.2" rx="5.6" ry="3.8"/><ellipse cx="382.0" cy="206.9" rx="5.6" ry="3.8"/><ellipse cx="407.0" cy="205.9" rx="4.1" ry="3.8"/><ellipse cx="330.0" cy="196.0" rx="3.8" ry="3.8"/><ellipse cx="356.0" cy="210.7" rx="5.6" ry="3.8"/><ellipse cx="382.0" cy="217.4" rx="5.6" ry="3.8"/><ellipse cx="407.0" cy="216.4" rx="4.1" ry="3.8"/><ellipse cx="330.0" cy="206.5" rx="3.8" ry="3.8"/><ellipse cx="356.0" cy="221.2" rx="5.6" ry="3.8"/><ellipse cx="382.0" cy="227.9" rx="5.6" ry="3.8"/><ellipse cx="407.0" cy="226.9" rx="4.1" ry="3.8"/><ellipse cx="330.0" cy="217.0" rx="3.8" ry="3.8"/><ellipse cx="356.0" cy="231.7" rx="5.6" ry="3.8"/><ellipse cx="382.0" cy="238.4" rx="5.6" ry="3.8"/><ellipse cx="407.0" cy="237.4" rx="4.1" ry="3.8"/></g>
<g fill="#6e74f6" fill-opacity="0.40"><ellipse cx="340.0" cy="84.8" rx="3.4" ry="2.7"/><ellipse cx="364.0" cy="94.9" rx="4.1" ry="2.7"/><ellipse cx="390.0" cy="99.6" rx="3.8" ry="2.7"/><ellipse cx="413.0" cy="96.0" rx="2.3" ry="2.7"/><ellipse cx="340.0" cy="95.3" rx="3.4" ry="2.7"/><ellipse cx="364.0" cy="105.4" rx="4.1" ry="2.7"/><ellipse cx="390.0" cy="110.1" rx="3.8" ry="2.7"/><ellipse cx="413.0" cy="106.5" rx="2.3" ry="2.7"/><ellipse cx="340.0" cy="105.8" rx="3.4" ry="2.7"/><ellipse cx="364.0" cy="115.9" rx="4.1" ry="2.7"/><ellipse cx="390.0" cy="120.6" rx="3.8" ry="2.7"/><ellipse cx="413.0" cy="117.0" rx="2.3" ry="2.7"/><ellipse cx="340.0" cy="116.3" rx="3.4" ry="2.7"/><ellipse cx="364.0" cy="126.4" rx="4.1" ry="2.7"/><ellipse cx="390.0" cy="131.1" rx="3.8" ry="2.7"/><ellipse cx="413.0" cy="127.5" rx="2.3" ry="2.7"/><ellipse cx="340.0" cy="127.0" rx="3.4" ry="2.7"/><ellipse cx="364.0" cy="137.1" rx="4.1" ry="2.7"/><ellipse cx="390.0" cy="141.8" rx="3.8" ry="2.7"/><ellipse cx="413.0" cy="138.1" rx="2.3" ry="2.7"/><ellipse cx="340.0" cy="137.6" rx="3.4" ry="2.7"/><ellipse cx="364.0" cy="147.8" rx="4.1" ry="2.7"/><ellipse cx="390.0" cy="152.5" rx="3.8" ry="2.7"/><ellipse cx="413.0" cy="148.7" rx="2.3" ry="2.7"/><ellipse cx="340.0" cy="148.3" rx="3.4" ry="2.7"/><ellipse cx="364.0" cy="158.5" rx="4.1" ry="2.7"/><ellipse cx="390.0" cy="163.2" rx="3.8" ry="2.7"/><ellipse cx="413.0" cy="159.3" rx="2.3" ry="2.7"/><ellipse cx="340.0" cy="159.0" rx="3.4" ry="2.7"/><ellipse cx="364.0" cy="169.2" rx="4.1" ry="2.7"/><ellipse cx="390.0" cy="173.9" rx="3.8" ry="2.7"/><ellipse cx="413.0" cy="169.9" rx="2.3" ry="2.7"/><ellipse cx="340.0" cy="169.7" rx="3.4" ry="2.7"/><ellipse cx="364.0" cy="180.0" rx="4.1" ry="2.7"/><ellipse cx="390.0" cy="184.6" rx="3.8" ry="2.7"/><ellipse cx="413.0" cy="180.5" rx="2.3" ry="2.7"/><ellipse cx="340.0" cy="180.3" rx="3.4" ry="2.7"/><ellipse cx="364.0" cy="190.7" rx="4.1" ry="2.7"/><ellipse cx="390.0" cy="195.3" rx="3.8" ry="2.7"/><ellipse cx="413.0" cy="191.1" rx="2.3" ry="2.7"/><ellipse cx="340.0" cy="191.0" rx="3.4" ry="2.7"/><ellipse cx="364.0" cy="201.4" rx="4.1" ry="2.7"/><ellipse cx="390.0" cy="206.0" rx="3.8" ry="2.7"/><ellipse cx="413.0" cy="201.8" rx="2.3" ry="2.7"/><ellipse cx="340.0" cy="201.5" rx="3.4" ry="2.7"/><ellipse cx="364.0" cy="211.9" rx="4.1" ry="2.7"/><ellipse cx="390.0" cy="216.5" rx="3.8" ry="2.7"/><ellipse cx="413.0" cy="212.3" rx="2.3" ry="2.7"/><ellipse cx="340.0" cy="212.0" rx="3.4" ry="2.7"/><ellipse cx="364.0" cy="222.4" rx="4.1" ry="2.7"/><ellipse cx="390.0" cy="227.0" rx="3.8" ry="2.7"/><ellipse cx="413.0" cy="222.8" rx="2.3" ry="2.7"/><ellipse cx="340.0" cy="222.5" rx="3.4" ry="2.7"/><ellipse cx="364.0" cy="232.9" rx="4.1" ry="2.7"/><ellipse cx="390.0" cy="237.5" rx="3.8" ry="2.7"/><ellipse cx="413.0" cy="233.3" rx="2.3" ry="2.7"/></g>
<ellipse cx="369.5" cy="108.5" rx="49.5" ry="21.5" fill="#3034d8"/>
<clipPath id="fB"><ellipse cx="369.5" cy="108.5" rx="49.5" ry="21.5"/></clipPath>
<g clip-path="url(#fB)"><path d="M394.5 114.3L514.5 114.3L511.5 125.9ZM394.5 114.3L502.6 136.9L488.3 146.8ZM394.5 114.3L469.3 155.1L446.6 161.3ZM394.5 114.3L421.2 165.1L394.5 166.5ZM394.5 114.3L367.8 165.1L342.4 161.3ZM394.5 114.3L319.7 155.1L300.7 146.8ZM394.5 114.3L286.4 136.9L277.5 125.9ZM394.5 114.3L274.5 114.3L277.5 102.7ZM394.5 114.3L286.4 91.7L300.7 81.8ZM394.5 114.3L319.7 73.6L342.4 67.4ZM394.5 114.3L367.8 63.5L394.5 62.2ZM394.5 114.3L421.2 63.5L446.6 67.4ZM394.5 114.3L469.3 73.6L488.3 81.8ZM394.5 114.3L502.6 91.7L511.5 102.7Z" fill="#6e74f6" fill-opacity="0.30"/><path d="M394.5 114.3L511.5 125.9L502.6 136.9ZM394.5 114.3L488.3 146.8L469.3 155.1ZM394.5 114.3L446.6 161.3L421.2 165.1ZM394.5 114.3L394.5 166.5L367.8 165.1ZM394.5 114.3L342.4 161.3L319.7 155.1ZM394.5 114.3L300.7 146.8L286.4 136.9ZM394.5 114.3L277.5 125.9L274.5 114.3ZM394.5 114.3L277.5 102.7L286.4 91.7ZM394.5 114.3L300.7 81.8L319.7 73.6ZM394.5 114.3L342.4 67.4L367.8 63.5ZM394.5 114.3L394.5 62.2L421.2 63.5ZM394.5 114.3L446.6 67.4L469.3 73.6ZM394.5 114.3L488.3 81.8L502.6 91.7ZM394.5 114.3L511.5 102.7L514.5 114.3Z" fill="#14168c" fill-opacity="0.12"/></g>
<ellipse cx="369.5" cy="109.8" rx="48.3" ry="20.7" fill="none" stroke="#14168c" stroke-width="2.0" stroke-opacity="0.55"/>
<ellipse cx="369.5" cy="108.5" rx="49.2" ry="21.2" fill="none" stroke="#6e74f6" stroke-width="1.1" stroke-opacity="0.55"/>
<ellipse cx="372.6" cy="110.5" rx="43.1" ry="18.5" fill="none" stroke="#14168c" stroke-width="2.0" stroke-opacity="0.55"/>
<ellipse cx="372.6" cy="109.2" rx="44.0" ry="19.0" fill="none" stroke="#6e74f6" stroke-width="1.1" stroke-opacity="0.55"/>
<ellipse cx="375.8" cy="111.3" rx="38.0" ry="16.2" fill="none" stroke="#14168c" stroke-width="2.0" stroke-opacity="0.55"/>
<ellipse cx="375.8" cy="110.0" rx="38.9" ry="16.7" fill="none" stroke="#6e74f6" stroke-width="1.1" stroke-opacity="0.55"/>
<ellipse cx="378.9" cy="112.0" rx="32.8" ry="14.0" fill="none" stroke="#14168c" stroke-width="2.0" stroke-opacity="0.55"/>
<ellipse cx="378.9" cy="110.7" rx="33.7" ry="14.5" fill="none" stroke="#6e74f6" stroke-width="1.1" stroke-opacity="0.55"/>
<ellipse cx="382.0" cy="112.7" rx="27.7" ry="11.7" fill="none" stroke="#14168c" stroke-width="2.0" stroke-opacity="0.55"/>
<ellipse cx="382.0" cy="111.4" rx="28.6" ry="12.2" fill="none" stroke="#6e74f6" stroke-width="1.1" stroke-opacity="0.55"/>
<ellipse cx="385.1" cy="113.4" rx="22.5" ry="9.5" fill="none" stroke="#14168c" stroke-width="2.0" stroke-opacity="0.55"/>
<ellipse cx="385.1" cy="112.1" rx="23.4" ry="10.0" fill="none" stroke="#6e74f6" stroke-width="1.1" stroke-opacity="0.55"/>
<ellipse cx="388.2" cy="114.2" rx="17.4" ry="7.3" fill="none" stroke="#14168c" stroke-width="2.0" stroke-opacity="0.55"/>
<ellipse cx="388.2" cy="112.9" rx="18.3" ry="7.8" fill="none" stroke="#6e74f6" stroke-width="1.1" stroke-opacity="0.55"/>
<ellipse cx="391.4" cy="114.9" rx="12.2" ry="5.0" fill="none" stroke="#14168c" stroke-width="2.0" stroke-opacity="0.55"/>
<ellipse cx="391.4" cy="113.6" rx="13.1" ry="5.5" fill="none" stroke="#6e74f6" stroke-width="1.1" stroke-opacity="0.55"/>
<ellipse cx="394.5" cy="115.6" rx="7.0" ry="2.8" fill="none" stroke="#14168c" stroke-width="2.0" stroke-opacity="0.55"/>
<ellipse cx="394.5" cy="114.3" rx="7.9" ry="3.3" fill="none" stroke="#6e74f6" stroke-width="1.1" stroke-opacity="0.55"/>
<ellipse cx="394.5" cy="114.3" rx="6.6" ry="2.9" fill="#14168c" fill-opacity=".55"/>
<rect x="320.0" y="81.0" width="99.0" height="159.5" fill="url(#gB)"/>
<path d="M321.8 177.5C322.8 176.5 324 180 324 184C322.6 183 321.6 180 321.8 177.5Z" fill="#fff"/>
<path d="M321.6 142.5h1.2v2h-1.2ZM321.6 153.5h1.2v2h-1.2ZM321.6 164.5h1.2v2h-1.2Z" fill="#fff"/>
</g>

<g fill="none" stroke-width="1.8" stroke-linejoin="round" stroke-linecap="butt">
<path stroke="#ff0000" d="M58.5 390.5C59.1 389.8 60.9 388.2 62.0 386.5C63.1 384.8 64.2 382.6 65.0 380.0C65.8 377.4 66.4 374.2 67.0 371.0C67.6 367.8 68.0 364.2 68.5 361.0C69.0 357.8 69.5 355.2 70.0 352.0C70.5 348.8 70.9 345.8 71.5 342.0C72.1 338.2 72.8 332.7 73.5 329.0C74.2 325.3 74.8 322.5 75.5 320.0C76.2 317.5 77.1 315.7 78.0 314.0C78.9 312.3 79.7 311.3 81.0 310.0C82.3 308.7 83.8 307.3 86.0 306.4C88.2 305.5 91.7 304.8 94.0 304.4C96.3 304.0 97.3 304.3 100.0 304.0C102.7 303.7 107.0 303.0 110.0 302.6C113.0 302.2 113.0 302.2 118.0 301.6C123.0 301.0 133.0 299.7 140.0 299.0C147.0 298.3 153.3 297.9 160.0 297.6C166.7 297.3 173.3 297.2 180.0 297.0C186.7 296.8 195.0 296.8 200.0 296.6C205.0 296.4 206.7 295.9 210.0 295.6C213.3 295.3 215.0 295.2 220.0 294.8C225.0 294.4 234.0 293.6 240.0 293.4C246.0 293.2 251.0 293.5 256.0 293.6C261.0 293.7 266.0 294.3 270.0 294.2C274.0 294.1 276.7 293.7 280.0 293.2C283.3 292.7 286.7 291.6 290.0 291.0C293.3 290.4 296.3 289.8 300.0 289.4C303.7 289.0 307.7 288.7 312.0 288.4C316.3 288.1 322.8 288.1 326.0 287.9C329.2 287.7 329.3 287.5 331.0 287.3C332.7 287.1 334.3 286.9 336.0 286.6C337.7 286.4 339.3 286.1 341.0 285.7C342.7 285.4 344.3 285.1 346.0 284.7C347.7 284.3 349.3 283.9 351.0 283.4C352.7 282.9 354.3 282.4 356.0 281.9C357.7 281.4 359.3 280.8 361.0 280.2C362.7 279.6 364.3 279.0 366.0 278.3C367.7 277.6 369.3 276.9 371.0 276.2C372.7 275.4 374.3 274.6 376.0 273.8C377.7 273.0 379.3 272.1 381.0 271.2C382.7 270.3 384.3 269.4 386.0 268.4C387.7 267.4 389.3 266.3 391.0 265.3C392.7 264.2 394.3 263.1 396.0 261.9C397.7 260.8 399.3 259.6 401.0 258.3C402.7 257.1 404.3 255.8 406.0 254.5C407.7 253.2 409.3 251.8 411.0 250.4C412.7 248.9 414.3 247.5 416.0 246.0C417.7 244.5 419.3 242.9 421.0 241.3C422.7 239.7 424.3 238.0 426.0 236.3C427.7 234.6 429.3 232.9 431.0 231.0C432.7 229.2 434.3 227.4 436.0 225.4C437.7 223.5 439.3 221.5 441.0 219.5C442.7 217.4 444.3 215.3 446.0 213.1C447.7 210.9 449.3 208.7 451.0 206.3C452.7 204.0 454.3 201.6 456.0 199.1C457.7 196.6 459.3 194.0 461.0 191.3C462.7 188.6 464.3 185.8 466.0 182.8C467.7 179.9 469.3 176.9 471.0 173.7C472.7 170.5 474.3 167.2 476.0 163.7C477.7 160.2 479.3 156.6 481.0 152.7C482.7 148.8 484.3 144.8 486.0 140.5C487.7 136.2 489.3 131.8 491.0 126.9C492.7 122.1 494.3 117.1 496.0 111.6C497.7 106.2 499.3 100.5 501.0 94.3C502.7 88.1 504.9 78.8 506.0 74.4C507.1 69.9 507.4 68.7 507.7 67.6"/>
<path stroke="#4daa05" d="M58.5 390.5C59.1 389.9 60.9 388.6 62.0 387.0C63.1 385.4 64.2 383.5 65.0 381.0C65.8 378.5 66.4 375.2 67.0 372.0C67.6 368.8 68.0 365.2 68.5 362.0C69.0 358.8 69.5 356.2 70.0 353.0C70.5 349.8 70.9 346.9 71.5 343.0C72.1 339.1 72.8 332.7 73.5 329.5C74.2 326.3 74.7 325.3 75.5 324.0C76.3 322.7 77.4 321.8 78.5 321.8C79.6 321.8 80.8 322.8 82.0 324.0C83.2 325.2 84.7 327.4 86.0 329.0C87.3 330.6 88.7 332.3 90.0 333.5C91.3 334.7 92.5 335.6 94.0 336.2C95.5 336.8 97.2 337.4 99.0 337.4C100.8 337.4 103.2 336.8 105.0 336.2C106.8 335.6 108.3 334.7 110.0 333.8C111.7 332.9 113.3 331.8 115.0 331.0C116.7 330.2 118.3 329.2 120.0 329.2C121.7 329.2 123.3 330.2 125.0 330.8C126.7 331.4 128.3 332.3 130.0 333.0C131.7 333.7 133.3 334.4 135.0 334.8C136.7 335.2 138.2 335.5 140.0 335.6C141.8 335.7 144.0 335.7 146.0 335.6C148.0 335.5 150.2 335.4 152.0 335.2C153.8 335.0 155.3 334.9 157.0 334.6C158.7 334.3 160.3 334.0 162.0 333.6C163.7 333.2 165.3 332.7 167.0 332.2C168.7 331.7 170.5 330.4 172.0 330.4C173.5 330.4 174.7 331.4 176.0 332.0C177.3 332.6 178.7 333.5 180.0 334.0C181.3 334.5 182.7 334.9 184.0 335.2C185.3 335.5 186.3 335.5 188.0 335.6C189.7 335.7 192.0 335.6 194.0 335.6C196.0 335.6 198.2 335.5 200.0 335.4C201.8 335.3 203.3 335.1 205.0 334.8C206.7 334.5 208.3 333.9 210.0 333.4C211.7 332.8 213.5 332.1 215.0 331.5C216.5 330.9 217.7 330.0 219.0 330.0C220.3 330.0 221.5 330.9 223.0 331.6C224.5 332.3 226.2 333.2 228.0 334.0C229.8 334.8 232.0 335.6 234.0 336.2C236.0 336.8 238.2 337.2 240.0 337.4C241.8 337.6 243.3 337.4 245.0 337.3C246.7 337.2 248.3 337.0 250.0 336.6C251.7 336.2 253.3 335.5 255.0 334.8C256.7 334.1 258.2 333.2 260.0 332.4C261.8 331.6 264.1 330.1 265.6 330.0C267.1 329.9 267.9 331.3 269.0 332.0C270.1 332.7 270.8 333.7 272.0 334.4C273.2 335.1 274.7 335.9 276.0 336.4C277.3 336.9 278.7 337.4 280.0 337.6C281.3 337.8 282.7 337.6 284.0 337.5C285.3 337.4 286.7 337.2 288.0 336.8C289.3 336.4 290.7 335.9 292.0 335.4C293.3 334.9 294.7 334.3 296.0 333.6C297.3 332.9 298.5 332.1 300.0 331.2C301.5 330.2 303.3 328.9 305.0 327.8C306.7 326.8 308.3 325.8 310.0 324.9C311.7 323.9 313.3 323.1 315.0 322.2C316.7 321.4 318.3 320.6 320.0 319.8C321.7 319.0 323.3 318.3 325.0 317.5C326.7 316.8 328.3 316.0 330.0 315.3C331.7 314.5 333.3 313.8 335.0 313.0C336.7 312.2 338.3 311.5 340.0 310.7C341.7 309.9 343.3 309.0 345.0 308.2C346.7 307.3 348.3 306.4 350.0 305.5C351.7 304.6 353.3 303.6 355.0 302.7C356.7 301.7 358.3 300.6 360.0 299.6C361.7 298.5 363.3 297.4 365.0 296.3C366.7 295.1 368.3 294.0 370.0 292.7C371.7 291.5 373.3 290.2 375.0 288.9C376.7 287.6 378.3 286.3 380.0 284.9C381.7 283.5 383.3 282.1 385.0 280.6C386.7 279.2 388.3 277.7 390.0 276.1C391.7 274.6 393.3 273.0 395.0 271.4C396.7 269.8 398.3 268.2 400.0 266.5C401.7 264.8 403.3 263.1 405.0 261.3C406.7 259.6 408.3 257.8 410.0 255.9C411.7 254.1 413.3 252.2 415.0 250.3C416.7 248.4 418.3 246.5 420.0 244.5C421.7 242.5 423.3 240.4 425.0 238.4C426.7 236.3 428.3 234.1 430.0 231.9C431.7 229.8 433.3 227.5 435.0 225.2C436.7 222.9 438.3 220.5 440.0 218.1C441.7 215.6 443.3 213.1 445.0 210.4C446.7 207.8 448.3 205.1 450.0 202.3C451.7 199.5 453.3 196.6 455.0 193.5C456.7 190.5 458.3 187.3 460.0 184.0C461.7 180.7 463.3 177.3 465.0 173.7C466.7 170.1 468.3 166.4 470.0 162.4C471.7 158.5 473.3 154.4 475.0 150.2C476.7 145.9 478.3 141.4 480.0 136.8C481.7 132.1 483.3 127.2 485.0 122.2C486.7 117.1 488.3 111.9 490.0 106.4C491.7 101.0 493.3 95.4 495.0 89.6C496.7 83.8 498.3 77.8 500.0 71.8C501.7 65.8 503.7 58.3 505.0 53.4C506.3 48.5 507.2 44.1 507.7 42.2"/>
<path stroke="#0000ff" d="M58.5 390.5C59.1 389.7 60.9 387.4 62.0 385.5C63.1 383.6 64.2 381.6 65.0 379.0C65.8 376.4 66.4 373.2 67.0 370.0C67.6 366.8 68.0 363.0 68.5 360.0C69.0 357.0 69.5 354.8 70.0 352.0C70.5 349.2 71.0 346.2 71.5 343.0C72.0 339.8 72.5 335.1 73.0 333.0C73.5 330.9 73.8 330.5 74.5 330.5C75.2 330.5 76.1 331.4 77.0 333.0C77.9 334.6 78.7 337.7 80.0 340.0C81.3 342.3 83.0 345.2 85.0 347.0C87.0 348.8 89.8 349.8 92.0 350.5C94.2 351.2 96.3 351.2 98.0 351.4C99.7 351.6 100.7 351.9 102.0 351.8C103.3 351.7 104.7 351.1 106.0 350.5C107.3 349.9 108.7 348.9 110.0 348.0C111.3 347.1 112.6 345.9 114.0 345.2C115.4 344.5 117.1 343.6 118.4 343.6C119.7 343.7 120.7 344.7 122.0 345.5C123.3 346.3 124.5 347.5 126.0 348.4C127.5 349.3 129.3 350.4 131.0 351.0C132.7 351.6 134.3 352.0 136.0 352.0C137.7 352.0 139.3 351.7 141.0 351.2C142.7 350.7 144.3 349.9 146.0 349.0C147.7 348.1 149.3 346.9 151.0 346.0C152.7 345.1 154.2 344.3 156.0 343.6C157.8 342.9 160.3 341.8 162.0 341.6C163.7 341.4 164.7 342.0 166.0 342.5C167.3 343.0 168.5 343.6 170.0 344.4C171.5 345.2 173.3 346.6 175.0 347.5C176.7 348.4 178.2 349.1 180.0 349.6C181.8 350.1 184.3 350.4 186.0 350.4C187.7 350.4 188.7 350.0 190.0 349.5C191.3 349.0 192.7 348.2 194.0 347.6C195.3 347.0 196.7 346.3 198.0 345.8C199.3 345.3 200.3 345.0 202.0 344.8C203.7 344.6 206.2 344.4 208.0 344.6C209.8 344.8 211.3 345.4 213.0 346.0C214.7 346.6 216.3 347.8 218.0 348.4C219.7 349.0 221.3 349.6 223.0 349.9C224.7 350.2 226.3 350.4 228.0 350.4C229.7 350.3 231.3 350.0 233.0 349.6C234.7 349.2 236.3 348.6 238.0 348.0C239.7 347.4 241.5 346.3 243.0 345.8C244.5 345.3 245.5 344.9 247.0 344.8C248.5 344.7 250.5 345.0 252.0 345.3C253.5 345.6 254.5 346.0 256.0 346.6C257.5 347.2 259.3 348.3 261.0 349.0C262.7 349.7 264.3 350.4 266.0 351.0C267.7 351.6 269.3 352.2 271.0 352.5C272.7 352.8 274.5 353.0 276.0 353.0C277.5 353.0 278.7 352.7 280.0 352.4C281.3 352.1 282.7 351.5 284.0 351.0C285.3 350.5 286.7 349.8 288.0 349.3C289.3 348.8 290.7 348.2 292.0 348.0C293.3 347.8 294.7 347.8 296.0 347.8C297.3 347.8 297.7 347.9 300.0 348.1C302.3 348.3 306.7 348.9 310.0 349.0C313.3 349.1 317.0 349.3 320.0 349.0C323.0 348.7 325.3 348.2 328.0 347.0C330.7 345.8 333.8 343.4 336.0 341.9C338.2 340.5 339.3 339.5 341.0 338.3C342.7 337.1 344.3 335.8 346.0 334.6C347.7 333.4 349.3 332.3 351.0 331.1C352.7 329.9 354.3 328.7 356.0 327.6C357.7 326.4 359.3 325.2 361.0 324.1C362.7 322.9 364.3 321.8 366.0 320.6C367.7 319.5 369.3 318.3 371.0 317.2C372.7 316.0 374.3 314.9 376.0 313.7C377.7 312.5 379.3 311.3 381.0 310.1C382.7 308.9 384.3 307.7 386.0 306.5C387.7 305.2 389.3 303.9 391.0 302.6C392.7 301.3 394.3 299.9 396.0 298.6C397.7 297.2 399.3 295.7 401.0 294.2C402.7 292.8 404.3 291.2 406.0 289.6C407.7 288.0 409.3 286.4 411.0 284.7C412.7 282.9 414.3 281.2 416.0 279.3C417.7 277.5 419.3 275.6 421.0 273.6C422.7 271.6 424.3 269.5 426.0 267.4C427.7 265.2 429.3 263.0 431.0 260.7C432.7 258.4 434.3 256.0 436.0 253.5C437.7 251.1 439.3 248.5 441.0 245.9C442.7 243.3 444.3 240.6 446.0 237.8C447.7 235.0 449.3 232.1 451.0 229.2C452.7 226.2 454.3 223.2 456.0 220.1C457.7 217.0 459.3 213.8 461.0 210.6C462.7 207.4 464.3 204.0 466.0 200.6C467.7 197.2 469.3 193.8 471.0 190.2C472.7 186.6 474.3 183.0 476.0 179.3C477.7 175.5 479.3 171.7 481.0 167.7C482.7 163.8 484.3 159.7 486.0 155.5C487.7 151.2 489.3 146.9 491.0 142.2C492.7 137.6 494.3 132.8 496.0 127.7C497.7 122.5 499.3 117.1 501.0 111.2C502.7 105.3 504.9 96.3 506.0 92.1C507.1 87.9 507.4 87.0 507.7 86.0"/>
</g>
<path d="M58.5 390.5v-5M58.5 13.5v5M118.4 390.5v-5M118.4 13.5v5M178.2 390.5v-5M178.2 13.5v5M238.1 390.5v-5M238.1 13.5v5M298.0 390.5v-5M298.0 13.5v5M357.9 390.5v-5M357.9 13.5v5M417.8 390.5v-5M417.8 13.5v5M477.6 390.5v-5M477.6 13.5v5M537.5 390.5v-5M537.5 13.5v5M58.5 390.5h5M537.5 390.5h-5M58.5 336.6h5M537.5 336.6h-5M58.5 282.8h5M537.5 282.8h-5M58.5 228.9h5M537.5 228.9h-5M58.5 175.1h5M537.5 175.1h-5M58.5 121.2h5M537.5 121.2h-5M58.5 67.4h5M537.5 67.4h-5M58.5 13.5h5M537.5 13.5h-5" stroke="#6a6a6a" stroke-width="1" fill="none"/>
<rect x="58.5" y="13.5" width="479.0" height="377.0" fill="none" stroke="#6a6a6a" stroke-width="1"/>
<g font-size="15.3px" text-anchor="middle"><text transform="translate(58.5 412.1) scale(.94 1)">0</text><text transform="translate(118.4 412.1) scale(.94 1)">10</text><text transform="translate(178.2 412.1) scale(.94 1)">20</text><text transform="translate(238.1 412.1) scale(.94 1)">30</text><text transform="translate(298.0 412.1) scale(.94 1)">40</text><text transform="translate(357.9 412.1) scale(.94 1)">50</text><text transform="translate(417.8 412.1) scale(.94 1)">60</text><text transform="translate(477.6 412.1) scale(.94 1)">70</text><text transform="translate(537.5 412.1) scale(.94 1)">80</text></g>
<g font-size="15.3px" text-anchor="end"><text transform="translate(52.6 395.4) scale(.94 1)">0</text><text transform="translate(52.6 341.5) scale(.94 1)">20</text><text transform="translate(52.6 287.7) scale(.94 1)">40</text><text transform="translate(52.6 233.8) scale(.94 1)">60</text><text transform="translate(52.6 180.0) scale(.94 1)">80</text><text transform="translate(52.6 126.1) scale(.94 1)">100</text><text transform="translate(52.6 72.3) scale(.94 1)">120</text><text transform="translate(52.6 18.4) scale(.94 1)">140</text></g>
<text x="298" y="433.6" font-size="16px" text-anchor="middle">Strain [%]</text>
<text transform="translate(19.5 201.3) rotate(-90)" font-size="16px" text-anchor="middle">Stress [MPa]</text>
<rect x="75.5" y="37.5" width="176.5" height="58" fill="#fff" stroke="#6a6a6a" stroke-width="1"/>
<line x1="80.4" y1="47.9" x2="124.9" y2="47.9" stroke="#ff0000" stroke-width="2"/><text x="128.3" y="52.6" font-size="13.2px">Diamond-6-1-0.73</text>
<line x1="80.4" y1="66.5" x2="124.9" y2="66.5" stroke="#4daa05" stroke-width="2"/><text x="128.3" y="71.2" font-size="13.2px">Diamond-6-1.5-0.64</text>
<line x1="80.4" y1="85.1" x2="124.9" y2="85.1" stroke="#0000ff" stroke-width="2"/><text x="128.3" y="89.8" font-size="13.2px">Diamond-6-2-0.58</text>
</svg></body></html>
